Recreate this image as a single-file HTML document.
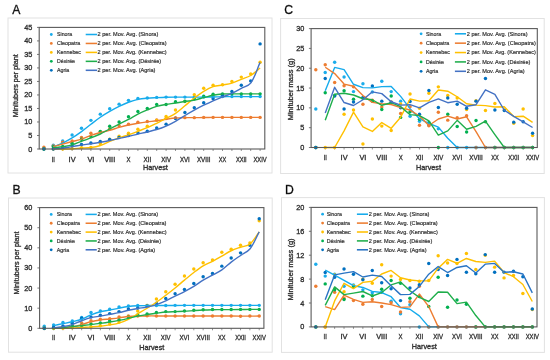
<!DOCTYPE html>
<html><head><meta charset="utf-8"><style>
html,body{margin:0;padding:0;background:#fff;width:550px;height:360px;overflow:hidden}
svg{display:block;font-family:"Liberation Sans", sans-serif;will-change:transform} text{stroke:#303030;stroke-width:0.32px} text.lg{stroke-width:0.2px;fill:#333}
</style></head><body>
<svg width="550" height="360" viewBox="0 0 550 360">
<rect width="550" height="360" fill="#fff"/>
<rect x="8" y="18" width="264" height="155" fill="#fff" stroke="#e2e2e2" stroke-width="1"/>
<text x="12.20" y="13.90" font-size="12.2" text-anchor="start" fill="#000" >A</text>
<line x1="37.00" y1="149.00" x2="39.20" y2="149.00" stroke="#7a7a7a" stroke-width="1"/>
<text x="32.40" y="151.50" font-size="7.3" text-anchor="end" fill="#303030" >0</text>
<line x1="37.00" y1="135.49" x2="39.20" y2="135.49" stroke="#7a7a7a" stroke-width="1"/>
<text x="32.40" y="137.99" font-size="7.3" text-anchor="end" fill="#303030" >5</text>
<line x1="37.00" y1="121.98" x2="39.20" y2="121.98" stroke="#7a7a7a" stroke-width="1"/>
<text x="32.40" y="124.48" font-size="7.3" text-anchor="end" fill="#303030" >10</text>
<line x1="37.00" y1="108.47" x2="39.20" y2="108.47" stroke="#7a7a7a" stroke-width="1"/>
<text x="32.40" y="110.97" font-size="7.3" text-anchor="end" fill="#303030" >15</text>
<line x1="37.00" y1="94.96" x2="39.20" y2="94.96" stroke="#7a7a7a" stroke-width="1"/>
<text x="32.40" y="97.46" font-size="7.3" text-anchor="end" fill="#303030" >20</text>
<line x1="37.00" y1="81.44" x2="39.20" y2="81.44" stroke="#7a7a7a" stroke-width="1"/>
<text x="32.40" y="83.94" font-size="7.3" text-anchor="end" fill="#303030" >25</text>
<line x1="37.00" y1="67.93" x2="39.20" y2="67.93" stroke="#7a7a7a" stroke-width="1"/>
<text x="32.40" y="70.43" font-size="7.3" text-anchor="end" fill="#303030" >30</text>
<line x1="37.00" y1="54.42" x2="39.20" y2="54.42" stroke="#7a7a7a" stroke-width="1"/>
<text x="32.40" y="56.92" font-size="7.3" text-anchor="end" fill="#303030" >35</text>
<line x1="37.00" y1="40.91" x2="39.20" y2="40.91" stroke="#7a7a7a" stroke-width="1"/>
<text x="32.40" y="43.41" font-size="7.3" text-anchor="end" fill="#303030" >40</text>
<line x1="37.00" y1="27.40" x2="39.20" y2="27.40" stroke="#7a7a7a" stroke-width="1"/>
<text x="32.40" y="29.90" font-size="7.3" text-anchor="end" fill="#303030" >45</text>
<line x1="43.90" y1="149.00" x2="43.90" y2="151.00" stroke="#7a7a7a" stroke-width="0.8"/>
<line x1="53.30" y1="149.00" x2="53.30" y2="151.00" stroke="#7a7a7a" stroke-width="0.8"/>
<line x1="62.70" y1="149.00" x2="62.70" y2="151.00" stroke="#7a7a7a" stroke-width="0.8"/>
<line x1="72.10" y1="149.00" x2="72.10" y2="151.00" stroke="#7a7a7a" stroke-width="0.8"/>
<line x1="81.50" y1="149.00" x2="81.50" y2="151.00" stroke="#7a7a7a" stroke-width="0.8"/>
<line x1="90.90" y1="149.00" x2="90.90" y2="151.00" stroke="#7a7a7a" stroke-width="0.8"/>
<line x1="100.30" y1="149.00" x2="100.30" y2="151.00" stroke="#7a7a7a" stroke-width="0.8"/>
<line x1="109.70" y1="149.00" x2="109.70" y2="151.00" stroke="#7a7a7a" stroke-width="0.8"/>
<line x1="119.10" y1="149.00" x2="119.10" y2="151.00" stroke="#7a7a7a" stroke-width="0.8"/>
<line x1="128.50" y1="149.00" x2="128.50" y2="151.00" stroke="#7a7a7a" stroke-width="0.8"/>
<line x1="137.90" y1="149.00" x2="137.90" y2="151.00" stroke="#7a7a7a" stroke-width="0.8"/>
<line x1="147.30" y1="149.00" x2="147.30" y2="151.00" stroke="#7a7a7a" stroke-width="0.8"/>
<line x1="156.70" y1="149.00" x2="156.70" y2="151.00" stroke="#7a7a7a" stroke-width="0.8"/>
<line x1="166.10" y1="149.00" x2="166.10" y2="151.00" stroke="#7a7a7a" stroke-width="0.8"/>
<line x1="175.50" y1="149.00" x2="175.50" y2="151.00" stroke="#7a7a7a" stroke-width="0.8"/>
<line x1="184.90" y1="149.00" x2="184.90" y2="151.00" stroke="#7a7a7a" stroke-width="0.8"/>
<line x1="194.30" y1="149.00" x2="194.30" y2="151.00" stroke="#7a7a7a" stroke-width="0.8"/>
<line x1="203.70" y1="149.00" x2="203.70" y2="151.00" stroke="#7a7a7a" stroke-width="0.8"/>
<line x1="213.10" y1="149.00" x2="213.10" y2="151.00" stroke="#7a7a7a" stroke-width="0.8"/>
<line x1="222.50" y1="149.00" x2="222.50" y2="151.00" stroke="#7a7a7a" stroke-width="0.8"/>
<line x1="231.90" y1="149.00" x2="231.90" y2="151.00" stroke="#7a7a7a" stroke-width="0.8"/>
<line x1="241.30" y1="149.00" x2="241.30" y2="151.00" stroke="#7a7a7a" stroke-width="0.8"/>
<line x1="250.70" y1="149.00" x2="250.70" y2="151.00" stroke="#7a7a7a" stroke-width="0.8"/>
<line x1="260.10" y1="149.00" x2="260.10" y2="151.00" stroke="#7a7a7a" stroke-width="0.8"/>
<text x="53.30" y="161.50" font-size="7" text-anchor="middle" fill="#303030" textLength="3.2" lengthAdjust="spacingAndGlyphs" >II</text>
<text x="72.10" y="161.50" font-size="7" text-anchor="middle" fill="#303030" textLength="7.0" lengthAdjust="spacingAndGlyphs" >IV</text>
<text x="90.90" y="161.50" font-size="7" text-anchor="middle" fill="#303030" textLength="7.0" lengthAdjust="spacingAndGlyphs" >VI</text>
<text x="109.70" y="161.50" font-size="7" text-anchor="middle" fill="#303030" textLength="11.0" lengthAdjust="spacingAndGlyphs" >VIII</text>
<text x="128.50" y="161.50" font-size="7" text-anchor="middle" fill="#303030" textLength="4.0" lengthAdjust="spacingAndGlyphs" >X</text>
<text x="147.30" y="161.50" font-size="7" text-anchor="middle" fill="#303030" textLength="7.7" lengthAdjust="spacingAndGlyphs" >XII</text>
<text x="166.10" y="161.50" font-size="7" text-anchor="middle" fill="#303030" textLength="9.8" lengthAdjust="spacingAndGlyphs" >XIV</text>
<text x="184.90" y="161.50" font-size="7" text-anchor="middle" fill="#303030" textLength="9.8" lengthAdjust="spacingAndGlyphs" >XVI</text>
<text x="203.70" y="161.50" font-size="7" text-anchor="middle" fill="#303030" textLength="13.5" lengthAdjust="spacingAndGlyphs" >XVIII</text>
<text x="222.50" y="161.50" font-size="7" text-anchor="middle" fill="#303030" textLength="7.5" lengthAdjust="spacingAndGlyphs" >XX</text>
<text x="241.30" y="161.50" font-size="7" text-anchor="middle" fill="#303030" textLength="10.8" lengthAdjust="spacingAndGlyphs" >XXII</text>
<text x="260.10" y="161.50" font-size="7" text-anchor="middle" fill="#303030" textLength="13.3" lengthAdjust="spacingAndGlyphs" >XXIV</text>
<text x="155.40" y="170.20" font-size="7.4" text-anchor="middle" fill="#303030" textLength="25" lengthAdjust="spacingAndGlyphs" >Harvest</text>
<text x="0" y="0" font-size="7.9" text-anchor="middle" fill="#303030" textLength="62.9" lengthAdjust="spacingAndGlyphs" transform="translate(18.4,85.75) rotate(-90)">Minitubers per plant</text>
<circle cx="43.90" cy="148.19" r="1.72" fill="#1AACEB"/>
<circle cx="53.30" cy="145.22" r="1.72" fill="#1AACEB"/>
<circle cx="62.70" cy="140.89" r="1.72" fill="#1AACEB"/>
<circle cx="72.10" cy="134.95" r="1.72" fill="#1AACEB"/>
<circle cx="81.50" cy="128.19" r="1.72" fill="#1AACEB"/>
<circle cx="90.90" cy="120.36" r="1.72" fill="#1AACEB"/>
<circle cx="100.30" cy="114.14" r="1.72" fill="#1AACEB"/>
<circle cx="109.70" cy="108.74" r="1.72" fill="#1AACEB"/>
<circle cx="119.10" cy="104.14" r="1.72" fill="#1AACEB"/>
<circle cx="128.50" cy="100.36" r="1.72" fill="#1AACEB"/>
<circle cx="137.90" cy="98.47" r="1.72" fill="#1AACEB"/>
<circle cx="147.30" cy="97.93" r="1.72" fill="#1AACEB"/>
<circle cx="156.70" cy="97.39" r="1.72" fill="#1AACEB"/>
<circle cx="166.10" cy="97.12" r="1.72" fill="#1AACEB"/>
<circle cx="175.50" cy="97.12" r="1.72" fill="#1AACEB"/>
<circle cx="184.90" cy="97.12" r="1.72" fill="#1AACEB"/>
<circle cx="194.30" cy="97.12" r="1.72" fill="#1AACEB"/>
<circle cx="203.70" cy="97.12" r="1.72" fill="#1AACEB"/>
<circle cx="213.10" cy="96.85" r="1.72" fill="#1AACEB"/>
<circle cx="222.50" cy="96.58" r="1.72" fill="#1AACEB"/>
<circle cx="231.90" cy="96.58" r="1.72" fill="#1AACEB"/>
<circle cx="241.30" cy="96.58" r="1.72" fill="#1AACEB"/>
<circle cx="250.70" cy="96.58" r="1.72" fill="#1AACEB"/>
<circle cx="260.10" cy="96.58" r="1.72" fill="#1AACEB"/>
<circle cx="43.90" cy="147.22" r="1.72" fill="#ED7D31"/>
<circle cx="53.30" cy="146.03" r="1.72" fill="#ED7D31"/>
<circle cx="62.70" cy="142.24" r="1.72" fill="#ED7D31"/>
<circle cx="72.10" cy="140.89" r="1.72" fill="#ED7D31"/>
<circle cx="81.50" cy="137.38" r="1.72" fill="#ED7D31"/>
<circle cx="90.90" cy="133.33" r="1.72" fill="#ED7D31"/>
<circle cx="100.30" cy="131.71" r="1.72" fill="#ED7D31"/>
<circle cx="109.70" cy="129.00" r="1.72" fill="#ED7D31"/>
<circle cx="119.10" cy="125.76" r="1.72" fill="#ED7D31"/>
<circle cx="128.50" cy="124.14" r="1.72" fill="#ED7D31"/>
<circle cx="137.90" cy="122.25" r="1.72" fill="#ED7D31"/>
<circle cx="147.30" cy="121.44" r="1.72" fill="#ED7D31"/>
<circle cx="156.70" cy="120.09" r="1.72" fill="#ED7D31"/>
<circle cx="166.10" cy="118.46" r="1.72" fill="#ED7D31"/>
<circle cx="175.50" cy="117.65" r="1.72" fill="#ED7D31"/>
<circle cx="184.90" cy="117.65" r="1.72" fill="#ED7D31"/>
<circle cx="194.30" cy="117.65" r="1.72" fill="#ED7D31"/>
<circle cx="203.70" cy="117.38" r="1.72" fill="#ED7D31"/>
<circle cx="213.10" cy="117.38" r="1.72" fill="#ED7D31"/>
<circle cx="222.50" cy="117.38" r="1.72" fill="#ED7D31"/>
<circle cx="231.90" cy="117.38" r="1.72" fill="#ED7D31"/>
<circle cx="241.30" cy="117.38" r="1.72" fill="#ED7D31"/>
<circle cx="250.70" cy="117.38" r="1.72" fill="#ED7D31"/>
<circle cx="260.10" cy="117.38" r="1.72" fill="#ED7D31"/>
<circle cx="43.90" cy="149.00" r="1.72" fill="#FFC000"/>
<circle cx="53.30" cy="149.00" r="1.72" fill="#FFC000"/>
<circle cx="62.70" cy="149.00" r="1.72" fill="#FFC000"/>
<circle cx="72.10" cy="148.46" r="1.72" fill="#FFC000"/>
<circle cx="81.50" cy="147.65" r="1.72" fill="#FFC000"/>
<circle cx="90.90" cy="147.38" r="1.72" fill="#FFC000"/>
<circle cx="100.30" cy="143.60" r="1.72" fill="#FFC000"/>
<circle cx="109.70" cy="139.27" r="1.72" fill="#FFC000"/>
<circle cx="119.10" cy="136.30" r="1.72" fill="#FFC000"/>
<circle cx="128.50" cy="133.33" r="1.72" fill="#FFC000"/>
<circle cx="137.90" cy="129.27" r="1.72" fill="#FFC000"/>
<circle cx="147.30" cy="126.17" r="1.72" fill="#FFC000"/>
<circle cx="156.70" cy="120.36" r="1.72" fill="#FFC000"/>
<circle cx="166.10" cy="116.57" r="1.72" fill="#FFC000"/>
<circle cx="175.50" cy="110.09" r="1.72" fill="#FFC000"/>
<circle cx="184.90" cy="101.44" r="1.72" fill="#FFC000"/>
<circle cx="194.30" cy="94.69" r="1.72" fill="#FFC000"/>
<circle cx="203.70" cy="88.20" r="1.72" fill="#FFC000"/>
<circle cx="213.10" cy="85.23" r="1.72" fill="#FFC000"/>
<circle cx="222.50" cy="84.69" r="1.72" fill="#FFC000"/>
<circle cx="231.90" cy="81.44" r="1.72" fill="#FFC000"/>
<circle cx="241.30" cy="77.12" r="1.72" fill="#FFC000"/>
<circle cx="250.70" cy="73.88" r="1.72" fill="#FFC000"/>
<circle cx="260.10" cy="62.26" r="1.72" fill="#FFC000"/>
<circle cx="43.90" cy="149.00" r="1.72" fill="#00B050"/>
<circle cx="53.30" cy="146.84" r="1.72" fill="#00B050"/>
<circle cx="62.70" cy="146.57" r="1.72" fill="#00B050"/>
<circle cx="72.10" cy="143.33" r="1.72" fill="#00B050"/>
<circle cx="81.50" cy="139.27" r="1.72" fill="#00B050"/>
<circle cx="90.90" cy="136.57" r="1.72" fill="#00B050"/>
<circle cx="100.30" cy="131.44" r="1.72" fill="#00B050"/>
<circle cx="109.70" cy="126.30" r="1.72" fill="#00B050"/>
<circle cx="119.10" cy="121.98" r="1.72" fill="#00B050"/>
<circle cx="128.50" cy="116.84" r="1.72" fill="#00B050"/>
<circle cx="137.90" cy="111.44" r="1.72" fill="#00B050"/>
<circle cx="147.30" cy="108.47" r="1.72" fill="#00B050"/>
<circle cx="156.70" cy="104.41" r="1.72" fill="#00B050"/>
<circle cx="166.10" cy="104.41" r="1.72" fill="#00B050"/>
<circle cx="175.50" cy="101.71" r="1.72" fill="#00B050"/>
<circle cx="184.90" cy="101.17" r="1.72" fill="#00B050"/>
<circle cx="194.30" cy="99.01" r="1.72" fill="#00B050"/>
<circle cx="203.70" cy="96.31" r="1.72" fill="#00B050"/>
<circle cx="213.10" cy="94.14" r="1.72" fill="#00B050"/>
<circle cx="222.50" cy="93.87" r="1.72" fill="#00B050"/>
<circle cx="231.90" cy="93.87" r="1.72" fill="#00B050"/>
<circle cx="241.30" cy="93.87" r="1.72" fill="#00B050"/>
<circle cx="250.70" cy="93.87" r="1.72" fill="#00B050"/>
<circle cx="260.10" cy="93.87" r="1.72" fill="#00B050"/>
<circle cx="43.90" cy="149.00" r="1.72" fill="#0070C0"/>
<circle cx="53.30" cy="149.00" r="1.72" fill="#0070C0"/>
<circle cx="62.70" cy="147.38" r="1.72" fill="#0070C0"/>
<circle cx="72.10" cy="145.76" r="1.72" fill="#0070C0"/>
<circle cx="81.50" cy="144.41" r="1.72" fill="#0070C0"/>
<circle cx="90.90" cy="143.06" r="1.72" fill="#0070C0"/>
<circle cx="100.30" cy="141.43" r="1.72" fill="#0070C0"/>
<circle cx="109.70" cy="139.54" r="1.72" fill="#0070C0"/>
<circle cx="119.10" cy="137.38" r="1.72" fill="#0070C0"/>
<circle cx="128.50" cy="135.49" r="1.72" fill="#0070C0"/>
<circle cx="137.90" cy="132.79" r="1.72" fill="#0070C0"/>
<circle cx="147.30" cy="131.17" r="1.72" fill="#0070C0"/>
<circle cx="156.70" cy="127.92" r="1.72" fill="#0070C0"/>
<circle cx="166.10" cy="124.14" r="1.72" fill="#0070C0"/>
<circle cx="175.50" cy="118.46" r="1.72" fill="#0070C0"/>
<circle cx="184.90" cy="112.52" r="1.72" fill="#0070C0"/>
<circle cx="194.30" cy="107.66" r="1.72" fill="#0070C0"/>
<circle cx="203.70" cy="102.79" r="1.72" fill="#0070C0"/>
<circle cx="213.10" cy="98.74" r="1.72" fill="#0070C0"/>
<circle cx="222.50" cy="95.23" r="1.72" fill="#0070C0"/>
<circle cx="231.90" cy="91.44" r="1.72" fill="#0070C0"/>
<circle cx="241.30" cy="85.23" r="1.72" fill="#0070C0"/>
<circle cx="250.70" cy="80.90" r="1.72" fill="#0070C0"/>
<circle cx="260.10" cy="43.88" r="1.72" fill="#0070C0"/>
<path d="M53.30,146.70 C56.43,145.49 59.65,144.48 62.70,143.06 C65.93,141.54 69.05,139.78 72.10,137.92 C75.33,135.95 78.44,133.79 81.50,131.57 C84.71,129.24 87.74,126.68 90.90,124.27 C94.01,121.90 97.07,119.45 100.30,117.25 C103.34,115.17 106.51,113.28 109.70,111.44 C112.78,109.67 115.91,108.00 119.10,106.44 C122.18,104.93 125.29,103.45 128.50,102.25 C131.57,101.11 134.70,100.10 137.90,99.41 C140.99,98.75 144.15,98.49 147.30,98.20 C150.42,97.91 153.57,97.82 156.70,97.66 C159.83,97.50 162.97,97.34 166.10,97.25 C169.23,97.16 172.37,97.14 175.50,97.12 C178.63,97.09 181.77,97.12 184.90,97.12 C188.03,97.12 191.17,97.12 194.30,97.12 C197.43,97.12 200.57,97.14 203.70,97.12 C206.83,97.09 209.97,97.05 213.10,96.98 C216.23,96.91 219.37,96.78 222.50,96.71 C225.63,96.64 228.77,96.60 231.90,96.58 C235.03,96.55 238.17,96.58 241.30,96.58 C244.43,96.58 247.57,96.58 250.70,96.58 C253.83,96.58 256.97,96.58 260.10,96.58" fill="none" stroke="#16ABEC" stroke-width="1.4" stroke-linejoin="round"/>
<path d="M53.30,146.62 C56.43,145.79 59.57,144.98 62.70,144.14 C65.84,143.29 68.96,142.40 72.10,141.57 C75.23,140.74 78.43,140.15 81.50,139.14 C84.71,138.08 87.71,136.48 90.90,135.35 C93.99,134.27 97.14,133.36 100.30,132.52 C103.41,131.69 106.60,131.20 109.70,130.35 C112.87,129.49 115.94,128.29 119.10,127.38 C122.21,126.49 125.34,125.65 128.50,124.95 C131.61,124.26 134.76,123.71 137.90,123.19 C141.02,122.68 144.16,122.25 147.30,121.84 C150.43,121.44 153.58,121.19 156.70,120.76 C159.84,120.33 162.96,119.73 166.10,119.28 C169.23,118.83 172.35,118.33 175.50,118.06 C178.62,117.79 181.76,117.72 184.90,117.65 C188.03,117.59 191.17,117.68 194.30,117.65 C197.43,117.63 200.57,117.56 203.70,117.52 C206.83,117.47 209.97,117.41 213.10,117.38 C216.23,117.36 219.37,117.38 222.50,117.38 C225.63,117.38 228.77,117.38 231.90,117.38 C235.03,117.38 238.17,117.38 241.30,117.38 C244.43,117.38 247.57,117.38 250.70,117.38 C253.83,117.38 256.97,117.38 260.10,117.38" fill="none" stroke="#ED7D31" stroke-width="1.4" stroke-linejoin="round"/>
<path d="M53.30,149.00 C56.43,149.00 59.57,149.05 62.70,149.00 C65.83,148.95 68.97,148.89 72.10,148.73 C75.24,148.57 78.37,148.26 81.50,148.05 C84.63,147.85 87.79,147.94 90.90,147.51 C94.08,147.08 97.25,146.47 100.30,145.49 C103.55,144.44 106.54,142.73 109.70,141.43 C112.81,140.16 115.93,138.90 119.10,137.79 C122.20,136.69 125.39,135.89 128.50,134.81 C131.66,133.72 134.77,132.48 137.90,131.30 C141.04,130.12 144.22,129.04 147.30,127.72 C150.49,126.36 153.59,124.79 156.70,123.26 C159.86,121.71 162.99,120.11 166.10,118.46 C169.26,116.80 172.54,115.33 175.50,113.33 C178.83,111.08 181.78,108.30 184.90,105.76 C188.04,103.21 191.08,100.52 194.30,98.06 C197.35,95.74 200.42,93.42 203.70,91.44 C206.70,89.63 209.78,87.86 213.10,86.71 C216.11,85.67 219.37,85.56 222.50,84.96 C225.64,84.35 228.84,83.99 231.90,83.07 C235.13,82.09 238.17,80.54 241.30,79.28 C244.43,78.02 247.80,77.23 250.70,75.50 C254.13,73.45 256.97,70.55 260.10,68.07" fill="none" stroke="#FFC000" stroke-width="1.4" stroke-linejoin="round"/>
<path d="M53.30,147.92 C56.43,147.51 59.58,147.20 62.70,146.70 C65.85,146.21 69.04,145.83 72.10,144.95 C75.33,144.02 78.35,142.48 81.50,141.30 C84.62,140.13 87.80,139.13 90.90,137.92 C94.06,136.69 97.24,135.48 100.30,134.00 C103.52,132.45 106.54,130.53 109.70,128.87 C112.81,127.24 115.97,125.72 119.10,124.14 C122.23,122.56 125.40,121.06 128.50,119.41 C131.67,117.72 134.69,115.76 137.90,114.14 C140.96,112.60 144.13,111.25 147.30,109.95 C150.40,108.68 153.49,107.39 156.70,106.44 C159.77,105.53 162.95,104.98 166.10,104.41 C169.22,103.85 172.37,103.56 175.50,103.06 C178.64,102.57 181.76,101.94 184.90,101.44 C188.03,100.95 191.20,100.71 194.30,100.09 C197.47,99.45 200.57,98.47 203.70,97.66 C206.83,96.85 209.92,95.84 213.10,95.23 C216.20,94.62 219.35,94.24 222.50,94.01 C225.63,93.79 228.77,93.90 231.90,93.87 C235.03,93.85 238.17,93.87 241.30,93.87 C244.43,93.87 247.57,93.87 250.70,93.87 C253.83,93.87 256.97,93.87 260.10,93.87" fill="none" stroke="#1FAE4B" stroke-width="1.4" stroke-linejoin="round"/>
<path d="M53.30,149.00 C56.43,148.73 59.58,148.59 62.70,148.19 C65.85,147.78 68.96,147.09 72.10,146.57 C75.23,146.05 78.36,145.56 81.50,145.08 C84.63,144.61 87.77,144.20 90.90,143.73 C94.04,143.26 97.17,142.78 100.30,142.24 C103.44,141.70 106.58,141.12 109.70,140.49 C112.84,139.86 115.97,139.14 119.10,138.46 C122.23,137.79 125.38,137.15 128.50,136.43 C131.64,135.71 134.76,134.88 137.90,134.14 C141.03,133.40 144.18,132.74 147.30,131.98 C150.44,131.21 153.61,130.52 156.70,129.54 C159.89,128.54 163.04,127.37 166.10,126.03 C169.31,124.62 172.44,123.02 175.50,121.30 C178.71,119.50 181.74,117.38 184.90,115.49 C188.00,113.64 191.13,111.82 194.30,110.09 C197.40,108.40 200.54,106.79 203.70,105.22 C206.81,103.68 209.92,102.16 213.10,100.77 C216.19,99.41 219.36,98.22 222.50,96.98 C225.63,95.75 228.85,94.74 231.90,93.33 C235.12,91.85 238.19,90.04 241.30,88.34 C244.45,86.61 248.59,85.97 250.70,83.07 C255.14,76.94 256.97,69.28 260.10,62.39" fill="none" stroke="#4472C4" stroke-width="1.4" stroke-linejoin="round"/>
<rect x="39.2" y="27.4" width="225.60000000000002" height="121.6" fill="none" stroke="#5a5a5a" stroke-width="1.1"/>
<circle cx="51.3" cy="34.50" r="1.4" fill="#1AACEB"/>
<text x="57.00" y="36.40" font-size="6.1" text-anchor="start" fill="#303030" textLength="15.2" lengthAdjust="spacingAndGlyphs" class="lg">Sinora</text>
<line x1="85.7" y1="34.50" x2="97.2" y2="34.50" stroke="#16ABEC" stroke-width="1.55"/>
<text x="97.60" y="36.40" font-size="6.1" text-anchor="start" fill="#303030" textLength="60.7" lengthAdjust="spacingAndGlyphs" class="lg">2 per. Mov. Avg. (Sinora)</text>
<circle cx="51.3" cy="43.45" r="1.4" fill="#ED7D31"/>
<text x="57.00" y="45.35" font-size="6.1" text-anchor="start" fill="#303030" textLength="23.3" lengthAdjust="spacingAndGlyphs" class="lg">Cleopatra</text>
<line x1="85.7" y1="43.45" x2="97.2" y2="43.45" stroke="#ED7D31" stroke-width="1.55"/>
<text x="97.60" y="45.35" font-size="6.1" text-anchor="start" fill="#303030" textLength="69" lengthAdjust="spacingAndGlyphs" class="lg">2 per. Mov. Avg. (Cleopatra)</text>
<circle cx="51.3" cy="52.40" r="1.4" fill="#FFC000"/>
<text x="57.00" y="54.30" font-size="6.1" text-anchor="start" fill="#303030" textLength="24" lengthAdjust="spacingAndGlyphs" class="lg">Kennebec</text>
<line x1="85.7" y1="52.40" x2="97.2" y2="52.40" stroke="#FFC000" stroke-width="1.55"/>
<text x="97.60" y="54.30" font-size="6.1" text-anchor="start" fill="#303030" textLength="69.1" lengthAdjust="spacingAndGlyphs" class="lg">2 per. Mov. Avg. (Kennebec)</text>
<circle cx="51.3" cy="61.35" r="1.4" fill="#00B050"/>
<text x="57.00" y="63.25" font-size="6.1" text-anchor="start" fill="#303030" textLength="18" lengthAdjust="spacingAndGlyphs" class="lg">Désirée</text>
<line x1="85.7" y1="61.35" x2="97.2" y2="61.35" stroke="#1FAE4B" stroke-width="1.55"/>
<text x="97.60" y="63.25" font-size="6.1" text-anchor="start" fill="#303030" textLength="63.6" lengthAdjust="spacingAndGlyphs" class="lg">2 per. Mov. Avg. (Désirée)</text>
<circle cx="51.3" cy="70.30" r="1.4" fill="#0070C0"/>
<text x="57.00" y="72.20" font-size="6.1" text-anchor="start" fill="#303030" textLength="12.3" lengthAdjust="spacingAndGlyphs" class="lg">Agria</text>
<line x1="85.7" y1="70.30" x2="97.2" y2="70.30" stroke="#4472C4" stroke-width="1.55"/>
<text x="97.60" y="72.20" font-size="6.1" text-anchor="start" fill="#303030" textLength="57.8" lengthAdjust="spacingAndGlyphs" class="lg">2 per. Mov. Avg. (Agria)</text>
<rect x="8.5" y="198" width="263.7" height="154.2" fill="#fff" stroke="#e2e2e2" stroke-width="1"/>
<text x="12.50" y="194.00" font-size="12.2" text-anchor="start" fill="#000" >B</text>
<line x1="37.40" y1="328.30" x2="39.60" y2="328.30" stroke="#7a7a7a" stroke-width="1"/>
<text x="32.40" y="330.80" font-size="7.3" text-anchor="end" fill="#303030" >0</text>
<line x1="37.40" y1="308.18" x2="39.60" y2="308.18" stroke="#7a7a7a" stroke-width="1"/>
<text x="32.40" y="310.68" font-size="7.3" text-anchor="end" fill="#303030" >10</text>
<line x1="37.40" y1="288.07" x2="39.60" y2="288.07" stroke="#7a7a7a" stroke-width="1"/>
<text x="32.40" y="290.57" font-size="7.3" text-anchor="end" fill="#303030" >20</text>
<line x1="37.40" y1="267.95" x2="39.60" y2="267.95" stroke="#7a7a7a" stroke-width="1"/>
<text x="32.40" y="270.45" font-size="7.3" text-anchor="end" fill="#303030" >30</text>
<line x1="37.40" y1="247.83" x2="39.60" y2="247.83" stroke="#7a7a7a" stroke-width="1"/>
<text x="32.40" y="250.33" font-size="7.3" text-anchor="end" fill="#303030" >40</text>
<line x1="37.40" y1="227.72" x2="39.60" y2="227.72" stroke="#7a7a7a" stroke-width="1"/>
<text x="32.40" y="230.22" font-size="7.3" text-anchor="end" fill="#303030" >50</text>
<line x1="37.40" y1="207.60" x2="39.60" y2="207.60" stroke="#7a7a7a" stroke-width="1"/>
<text x="32.40" y="210.10" font-size="7.3" text-anchor="end" fill="#303030" >60</text>
<line x1="44.27" y1="328.30" x2="44.27" y2="330.30" stroke="#7a7a7a" stroke-width="0.8"/>
<line x1="53.62" y1="328.30" x2="53.62" y2="330.30" stroke="#7a7a7a" stroke-width="0.8"/>
<line x1="62.96" y1="328.30" x2="62.96" y2="330.30" stroke="#7a7a7a" stroke-width="0.8"/>
<line x1="72.31" y1="328.30" x2="72.31" y2="330.30" stroke="#7a7a7a" stroke-width="0.8"/>
<line x1="81.66" y1="328.30" x2="81.66" y2="330.30" stroke="#7a7a7a" stroke-width="0.8"/>
<line x1="91.00" y1="328.30" x2="91.00" y2="330.30" stroke="#7a7a7a" stroke-width="0.8"/>
<line x1="100.35" y1="328.30" x2="100.35" y2="330.30" stroke="#7a7a7a" stroke-width="0.8"/>
<line x1="109.69" y1="328.30" x2="109.69" y2="330.30" stroke="#7a7a7a" stroke-width="0.8"/>
<line x1="119.04" y1="328.30" x2="119.04" y2="330.30" stroke="#7a7a7a" stroke-width="0.8"/>
<line x1="128.39" y1="328.30" x2="128.39" y2="330.30" stroke="#7a7a7a" stroke-width="0.8"/>
<line x1="137.73" y1="328.30" x2="137.73" y2="330.30" stroke="#7a7a7a" stroke-width="0.8"/>
<line x1="147.08" y1="328.30" x2="147.08" y2="330.30" stroke="#7a7a7a" stroke-width="0.8"/>
<line x1="156.42" y1="328.30" x2="156.42" y2="330.30" stroke="#7a7a7a" stroke-width="0.8"/>
<line x1="165.77" y1="328.30" x2="165.77" y2="330.30" stroke="#7a7a7a" stroke-width="0.8"/>
<line x1="175.11" y1="328.30" x2="175.11" y2="330.30" stroke="#7a7a7a" stroke-width="0.8"/>
<line x1="184.46" y1="328.30" x2="184.46" y2="330.30" stroke="#7a7a7a" stroke-width="0.8"/>
<line x1="193.81" y1="328.30" x2="193.81" y2="330.30" stroke="#7a7a7a" stroke-width="0.8"/>
<line x1="203.15" y1="328.30" x2="203.15" y2="330.30" stroke="#7a7a7a" stroke-width="0.8"/>
<line x1="212.50" y1="328.30" x2="212.50" y2="330.30" stroke="#7a7a7a" stroke-width="0.8"/>
<line x1="221.84" y1="328.30" x2="221.84" y2="330.30" stroke="#7a7a7a" stroke-width="0.8"/>
<line x1="231.19" y1="328.30" x2="231.19" y2="330.30" stroke="#7a7a7a" stroke-width="0.8"/>
<line x1="240.54" y1="328.30" x2="240.54" y2="330.30" stroke="#7a7a7a" stroke-width="0.8"/>
<line x1="249.88" y1="328.30" x2="249.88" y2="330.30" stroke="#7a7a7a" stroke-width="0.8"/>
<line x1="259.23" y1="328.30" x2="259.23" y2="330.30" stroke="#7a7a7a" stroke-width="0.8"/>
<text x="53.62" y="340.30" font-size="7" text-anchor="middle" fill="#303030" textLength="3.2" lengthAdjust="spacingAndGlyphs" >II</text>
<text x="72.31" y="340.30" font-size="7" text-anchor="middle" fill="#303030" textLength="7.0" lengthAdjust="spacingAndGlyphs" >IV</text>
<text x="91.00" y="340.30" font-size="7" text-anchor="middle" fill="#303030" textLength="7.0" lengthAdjust="spacingAndGlyphs" >VI</text>
<text x="109.69" y="340.30" font-size="7" text-anchor="middle" fill="#303030" textLength="11.0" lengthAdjust="spacingAndGlyphs" >VIII</text>
<text x="128.39" y="340.30" font-size="7" text-anchor="middle" fill="#303030" textLength="4.0" lengthAdjust="spacingAndGlyphs" >X</text>
<text x="147.08" y="340.30" font-size="7" text-anchor="middle" fill="#303030" textLength="7.7" lengthAdjust="spacingAndGlyphs" >XII</text>
<text x="165.77" y="340.30" font-size="7" text-anchor="middle" fill="#303030" textLength="9.8" lengthAdjust="spacingAndGlyphs" >XIV</text>
<text x="184.46" y="340.30" font-size="7" text-anchor="middle" fill="#303030" textLength="9.8" lengthAdjust="spacingAndGlyphs" >XVI</text>
<text x="203.15" y="340.30" font-size="7" text-anchor="middle" fill="#303030" textLength="13.5" lengthAdjust="spacingAndGlyphs" >XVIII</text>
<text x="221.84" y="340.30" font-size="7" text-anchor="middle" fill="#303030" textLength="7.5" lengthAdjust="spacingAndGlyphs" >XX</text>
<text x="240.54" y="340.30" font-size="7" text-anchor="middle" fill="#303030" textLength="10.8" lengthAdjust="spacingAndGlyphs" >XXII</text>
<text x="259.23" y="340.30" font-size="7" text-anchor="middle" fill="#303030" textLength="13.3" lengthAdjust="spacingAndGlyphs" >XXIV</text>
<text x="151.80" y="349.50" font-size="7.4" text-anchor="middle" fill="#303030" textLength="25" lengthAdjust="spacingAndGlyphs" >Harvest</text>
<text x="0" y="0" font-size="7.9" text-anchor="middle" fill="#303030" textLength="62.9" lengthAdjust="spacingAndGlyphs" transform="translate(18.6,263.0) rotate(-90)">Minitubers per plant</text>
<circle cx="44.27" cy="326.29" r="1.72" fill="#1AACEB"/>
<circle cx="53.62" cy="324.88" r="1.72" fill="#1AACEB"/>
<circle cx="62.96" cy="322.47" r="1.72" fill="#1AACEB"/>
<circle cx="72.31" cy="321.06" r="1.72" fill="#1AACEB"/>
<circle cx="81.66" cy="317.44" r="1.72" fill="#1AACEB"/>
<circle cx="91.00" cy="312.41" r="1.72" fill="#1AACEB"/>
<circle cx="100.35" cy="311.00" r="1.72" fill="#1AACEB"/>
<circle cx="109.69" cy="309.19" r="1.72" fill="#1AACEB"/>
<circle cx="119.04" cy="306.98" r="1.72" fill="#1AACEB"/>
<circle cx="128.39" cy="305.97" r="1.72" fill="#1AACEB"/>
<circle cx="137.73" cy="305.57" r="1.72" fill="#1AACEB"/>
<circle cx="147.08" cy="305.57" r="1.72" fill="#1AACEB"/>
<circle cx="156.42" cy="305.57" r="1.72" fill="#1AACEB"/>
<circle cx="165.77" cy="305.57" r="1.72" fill="#1AACEB"/>
<circle cx="175.11" cy="305.37" r="1.72" fill="#1AACEB"/>
<circle cx="184.46" cy="305.37" r="1.72" fill="#1AACEB"/>
<circle cx="193.81" cy="305.37" r="1.72" fill="#1AACEB"/>
<circle cx="203.15" cy="305.37" r="1.72" fill="#1AACEB"/>
<circle cx="212.50" cy="305.37" r="1.72" fill="#1AACEB"/>
<circle cx="221.84" cy="305.37" r="1.72" fill="#1AACEB"/>
<circle cx="231.19" cy="305.37" r="1.72" fill="#1AACEB"/>
<circle cx="240.54" cy="305.37" r="1.72" fill="#1AACEB"/>
<circle cx="249.88" cy="305.37" r="1.72" fill="#1AACEB"/>
<circle cx="259.23" cy="305.37" r="1.72" fill="#1AACEB"/>
<circle cx="44.27" cy="328.30" r="1.72" fill="#ED7D31"/>
<circle cx="53.62" cy="327.90" r="1.72" fill="#ED7D31"/>
<circle cx="62.96" cy="327.29" r="1.72" fill="#ED7D31"/>
<circle cx="72.31" cy="326.29" r="1.72" fill="#ED7D31"/>
<circle cx="81.66" cy="322.87" r="1.72" fill="#ED7D31"/>
<circle cx="91.00" cy="320.66" r="1.72" fill="#ED7D31"/>
<circle cx="100.35" cy="319.25" r="1.72" fill="#ED7D31"/>
<circle cx="109.69" cy="318.64" r="1.72" fill="#ED7D31"/>
<circle cx="119.04" cy="317.03" r="1.72" fill="#ED7D31"/>
<circle cx="128.39" cy="316.03" r="1.72" fill="#ED7D31"/>
<circle cx="137.73" cy="316.03" r="1.72" fill="#ED7D31"/>
<circle cx="147.08" cy="315.83" r="1.72" fill="#ED7D31"/>
<circle cx="156.42" cy="316.03" r="1.72" fill="#ED7D31"/>
<circle cx="165.77" cy="316.03" r="1.72" fill="#ED7D31"/>
<circle cx="175.11" cy="316.03" r="1.72" fill="#ED7D31"/>
<circle cx="184.46" cy="316.03" r="1.72" fill="#ED7D31"/>
<circle cx="193.81" cy="316.03" r="1.72" fill="#ED7D31"/>
<circle cx="203.15" cy="316.03" r="1.72" fill="#ED7D31"/>
<circle cx="212.50" cy="316.03" r="1.72" fill="#ED7D31"/>
<circle cx="221.84" cy="316.03" r="1.72" fill="#ED7D31"/>
<circle cx="231.19" cy="316.03" r="1.72" fill="#ED7D31"/>
<circle cx="240.54" cy="316.23" r="1.72" fill="#ED7D31"/>
<circle cx="249.88" cy="316.03" r="1.72" fill="#ED7D31"/>
<circle cx="259.23" cy="316.03" r="1.72" fill="#ED7D31"/>
<circle cx="44.27" cy="328.30" r="1.72" fill="#FFC000"/>
<circle cx="53.62" cy="328.30" r="1.72" fill="#FFC000"/>
<circle cx="62.96" cy="328.30" r="1.72" fill="#FFC000"/>
<circle cx="72.31" cy="327.70" r="1.72" fill="#FFC000"/>
<circle cx="81.66" cy="327.09" r="1.72" fill="#FFC000"/>
<circle cx="91.00" cy="326.69" r="1.72" fill="#FFC000"/>
<circle cx="100.35" cy="325.68" r="1.72" fill="#FFC000"/>
<circle cx="109.69" cy="324.08" r="1.72" fill="#FFC000"/>
<circle cx="119.04" cy="322.06" r="1.72" fill="#FFC000"/>
<circle cx="128.39" cy="316.63" r="1.72" fill="#FFC000"/>
<circle cx="137.73" cy="311.00" r="1.72" fill="#FFC000"/>
<circle cx="147.08" cy="305.57" r="1.72" fill="#FFC000"/>
<circle cx="156.42" cy="298.93" r="1.72" fill="#FFC000"/>
<circle cx="165.77" cy="291.69" r="1.72" fill="#FFC000"/>
<circle cx="175.11" cy="284.24" r="1.72" fill="#FFC000"/>
<circle cx="184.46" cy="276.00" r="1.72" fill="#FFC000"/>
<circle cx="193.81" cy="268.96" r="1.72" fill="#FFC000"/>
<circle cx="203.15" cy="262.72" r="1.72" fill="#FFC000"/>
<circle cx="212.50" cy="259.90" r="1.72" fill="#FFC000"/>
<circle cx="221.84" cy="252.26" r="1.72" fill="#FFC000"/>
<circle cx="231.19" cy="249.24" r="1.72" fill="#FFC000"/>
<circle cx="240.54" cy="245.22" r="1.72" fill="#FFC000"/>
<circle cx="249.88" cy="243.01" r="1.72" fill="#FFC000"/>
<circle cx="259.23" cy="220.68" r="1.72" fill="#FFC000"/>
<circle cx="44.27" cy="328.30" r="1.72" fill="#00B050"/>
<circle cx="53.62" cy="327.90" r="1.72" fill="#00B050"/>
<circle cx="62.96" cy="327.29" r="1.72" fill="#00B050"/>
<circle cx="72.31" cy="325.89" r="1.72" fill="#00B050"/>
<circle cx="81.66" cy="325.28" r="1.72" fill="#00B050"/>
<circle cx="91.00" cy="323.87" r="1.72" fill="#00B050"/>
<circle cx="100.35" cy="322.87" r="1.72" fill="#00B050"/>
<circle cx="109.69" cy="321.06" r="1.72" fill="#00B050"/>
<circle cx="119.04" cy="319.65" r="1.72" fill="#00B050"/>
<circle cx="128.39" cy="317.03" r="1.72" fill="#00B050"/>
<circle cx="137.73" cy="315.02" r="1.72" fill="#00B050"/>
<circle cx="147.08" cy="314.02" r="1.72" fill="#00B050"/>
<circle cx="156.42" cy="312.41" r="1.72" fill="#00B050"/>
<circle cx="165.77" cy="311.60" r="1.72" fill="#00B050"/>
<circle cx="175.11" cy="311.60" r="1.72" fill="#00B050"/>
<circle cx="184.46" cy="311.00" r="1.72" fill="#00B050"/>
<circle cx="193.81" cy="310.19" r="1.72" fill="#00B050"/>
<circle cx="203.15" cy="309.79" r="1.72" fill="#00B050"/>
<circle cx="212.50" cy="309.59" r="1.72" fill="#00B050"/>
<circle cx="221.84" cy="309.59" r="1.72" fill="#00B050"/>
<circle cx="231.19" cy="309.59" r="1.72" fill="#00B050"/>
<circle cx="240.54" cy="309.39" r="1.72" fill="#00B050"/>
<circle cx="249.88" cy="309.39" r="1.72" fill="#00B050"/>
<circle cx="259.23" cy="309.39" r="1.72" fill="#00B050"/>
<circle cx="44.27" cy="328.30" r="1.72" fill="#0070C0"/>
<circle cx="53.62" cy="327.29" r="1.72" fill="#0070C0"/>
<circle cx="62.96" cy="325.89" r="1.72" fill="#0070C0"/>
<circle cx="72.31" cy="323.27" r="1.72" fill="#0070C0"/>
<circle cx="81.66" cy="318.24" r="1.72" fill="#0070C0"/>
<circle cx="91.00" cy="317.03" r="1.72" fill="#0070C0"/>
<circle cx="100.35" cy="315.22" r="1.72" fill="#0070C0"/>
<circle cx="109.69" cy="313.61" r="1.72" fill="#0070C0"/>
<circle cx="119.04" cy="311.60" r="1.72" fill="#0070C0"/>
<circle cx="128.39" cy="308.99" r="1.72" fill="#0070C0"/>
<circle cx="137.73" cy="307.98" r="1.72" fill="#0070C0"/>
<circle cx="147.08" cy="305.97" r="1.72" fill="#0070C0"/>
<circle cx="156.42" cy="303.15" r="1.72" fill="#0070C0"/>
<circle cx="165.77" cy="298.53" r="1.72" fill="#0070C0"/>
<circle cx="175.11" cy="293.70" r="1.72" fill="#0070C0"/>
<circle cx="184.46" cy="289.47" r="1.72" fill="#0070C0"/>
<circle cx="193.81" cy="283.44" r="1.72" fill="#0070C0"/>
<circle cx="203.15" cy="276.80" r="1.72" fill="#0070C0"/>
<circle cx="212.50" cy="273.58" r="1.72" fill="#0070C0"/>
<circle cx="221.84" cy="266.14" r="1.72" fill="#0070C0"/>
<circle cx="231.19" cy="258.09" r="1.72" fill="#0070C0"/>
<circle cx="240.54" cy="252.86" r="1.72" fill="#0070C0"/>
<circle cx="249.88" cy="245.22" r="1.72" fill="#0070C0"/>
<circle cx="259.23" cy="218.66" r="1.72" fill="#0070C0"/>
<path d="M53.62,325.58 C56.73,324.95 59.85,324.31 62.96,323.67 C66.08,323.04 69.22,322.49 72.31,321.76 C75.45,321.02 78.63,320.36 81.66,319.25 C84.88,318.07 87.82,316.21 91.00,314.92 C94.06,313.69 97.16,312.53 100.35,311.70 C103.41,310.91 106.59,310.70 109.69,310.09 C112.82,309.49 115.91,308.69 119.04,308.08 C122.14,307.48 125.25,306.86 128.39,306.47 C131.49,306.09 134.61,305.92 137.73,305.77 C140.84,305.62 143.96,305.60 147.08,305.57 C150.19,305.53 153.31,305.57 156.42,305.57 C159.54,305.57 162.65,305.58 165.77,305.57 C168.88,305.55 172.00,305.50 175.11,305.47 C178.23,305.43 181.35,305.38 184.46,305.37 C187.58,305.35 190.69,305.37 193.81,305.37 C196.92,305.37 200.04,305.37 203.15,305.37 C206.27,305.37 209.38,305.37 212.50,305.37 C215.61,305.37 218.73,305.37 221.84,305.37 C224.96,305.37 228.07,305.37 231.19,305.37 C234.30,305.37 237.42,305.37 240.54,305.37 C243.65,305.37 246.77,305.37 249.88,305.37 C253.00,305.37 256.11,305.37 259.23,305.37" fill="none" stroke="#16ABEC" stroke-width="1.4" stroke-linejoin="round"/>
<path d="M53.62,328.10 C56.73,327.93 59.85,327.81 62.96,327.60 C66.08,327.38 69.22,327.29 72.31,326.79 C75.47,326.28 78.56,325.41 81.66,324.58 C84.80,323.73 87.84,322.54 91.00,321.76 C94.08,321.00 97.21,320.42 100.35,319.95 C103.45,319.48 106.58,319.30 109.69,318.95 C112.81,318.59 115.93,318.24 119.04,317.84 C122.16,317.44 125.25,316.84 128.39,316.53 C131.49,316.23 134.61,316.13 137.73,316.03 C140.85,315.93 143.96,315.95 147.08,315.93 C150.19,315.91 153.31,315.91 156.42,315.93 C159.54,315.95 162.65,316.01 165.77,316.03 C168.88,316.05 172.00,316.03 175.11,316.03 C178.23,316.03 181.35,316.03 184.46,316.03 C187.58,316.03 190.69,316.03 193.81,316.03 C196.92,316.03 200.04,316.03 203.15,316.03 C206.27,316.03 209.38,316.03 212.50,316.03 C215.61,316.03 218.73,316.03 221.84,316.03 C224.96,316.03 228.07,316.01 231.19,316.03 C234.30,316.05 237.42,316.11 240.54,316.13 C243.65,316.15 246.77,316.15 249.88,316.13 C253.00,316.11 256.11,316.06 259.23,316.03" fill="none" stroke="#ED7D31" stroke-width="1.4" stroke-linejoin="round"/>
<path d="M53.62,328.30 C56.73,328.30 59.85,328.35 62.96,328.30 C66.08,328.25 69.20,328.15 72.31,328.00 C75.43,327.85 78.54,327.58 81.66,327.39 C84.77,327.21 87.89,327.09 91.00,326.89 C94.12,326.69 97.24,326.52 100.35,326.19 C103.48,325.85 106.59,325.40 109.69,324.88 C112.82,324.36 116.00,323.97 119.04,323.07 C122.25,322.12 125.38,320.84 128.39,319.35 C131.63,317.74 134.62,315.66 137.73,313.82 C140.85,311.97 144.00,310.19 147.08,308.28 C150.23,306.33 153.38,304.36 156.42,302.25 C159.61,300.04 162.69,297.66 165.77,295.31 C168.92,292.90 172.04,290.46 175.11,287.97 C178.27,285.40 181.33,282.72 184.46,280.12 C187.56,277.55 190.61,274.92 193.81,272.48 C196.84,270.16 199.87,267.80 203.15,265.84 C206.12,264.06 209.43,262.91 212.50,261.31 C215.66,259.66 218.74,257.84 221.84,256.08 C224.97,254.32 227.95,252.29 231.19,250.75 C234.20,249.33 237.40,248.34 240.54,247.23 C243.63,246.13 247.35,246.20 249.88,244.11 C253.85,240.84 256.11,235.93 259.23,231.84" fill="none" stroke="#FFC000" stroke-width="1.4" stroke-linejoin="round"/>
<path d="M53.62,328.10 C56.73,327.93 59.85,327.85 62.96,327.60 C66.09,327.34 69.20,326.93 72.31,326.59 C75.43,326.25 78.54,325.92 81.66,325.58 C84.77,325.25 87.89,324.95 91.00,324.58 C94.12,324.21 97.24,323.81 100.35,323.37 C103.47,322.93 106.58,322.47 109.69,321.96 C112.81,321.46 115.94,320.96 119.04,320.35 C122.17,319.75 125.28,319.06 128.39,318.34 C131.51,317.62 134.59,316.67 137.73,316.03 C140.82,315.40 143.96,314.99 147.08,314.52 C150.19,314.05 153.31,313.63 156.42,313.21 C159.54,312.79 162.64,312.27 165.77,312.01 C168.88,311.74 172.00,311.72 175.11,311.60 C178.23,311.49 181.35,311.47 184.46,311.30 C187.58,311.13 190.69,310.82 193.81,310.60 C196.92,310.38 200.03,310.14 203.15,309.99 C206.27,309.84 209.38,309.76 212.50,309.69 C215.61,309.63 218.73,309.61 221.84,309.59 C224.96,309.57 228.07,309.61 231.19,309.59 C234.30,309.57 237.42,309.52 240.54,309.49 C243.65,309.46 246.77,309.41 249.88,309.39 C253.00,309.37 256.11,309.39 259.23,309.39" fill="none" stroke="#1FAE4B" stroke-width="1.4" stroke-linejoin="round"/>
<path d="M53.62,327.80 C56.73,327.39 59.87,327.12 62.96,326.59 C66.10,326.05 69.27,325.53 72.31,324.58 C75.52,323.58 78.50,321.93 81.66,320.76 C84.73,319.61 87.81,318.43 91.00,317.64 C94.07,316.88 97.24,316.66 100.35,316.13 C103.47,315.59 106.58,315.01 109.69,314.42 C112.81,313.83 115.94,313.29 119.04,312.61 C122.17,311.92 125.25,310.99 128.39,310.30 C131.48,309.61 134.61,309.04 137.73,308.49 C140.84,307.93 143.99,307.62 147.08,306.98 C150.23,306.32 153.37,305.57 156.42,304.56 C159.61,303.52 162.71,302.22 165.77,300.84 C168.95,299.40 171.99,297.66 175.11,296.11 C178.22,294.58 181.39,293.18 184.46,291.59 C187.62,289.96 190.78,288.32 193.81,286.46 C197.01,284.49 199.93,282.06 203.15,280.12 C206.17,278.30 209.41,276.89 212.50,275.19 C215.64,273.47 218.91,271.92 221.84,269.86 C225.16,267.54 227.98,264.58 231.19,262.12 C234.22,259.79 237.40,257.67 240.54,255.48 C243.64,253.31 247.53,252.00 249.88,249.04 C253.92,243.95 256.11,237.64 259.23,231.94" fill="none" stroke="#4472C4" stroke-width="1.4" stroke-linejoin="round"/>
<rect x="39.6" y="207.6" width="224.29999999999998" height="120.70000000000002" fill="none" stroke="#5a5a5a" stroke-width="1.1"/>
<circle cx="51.2" cy="214.40" r="1.4" fill="#1AACEB"/>
<text x="56.80" y="216.30" font-size="6.1" text-anchor="start" fill="#303030" textLength="15.2" lengthAdjust="spacingAndGlyphs" class="lg">Sinora</text>
<line x1="85.6" y1="214.40" x2="96.8" y2="214.40" stroke="#16ABEC" stroke-width="1.55"/>
<text x="97.40" y="216.30" font-size="6.1" text-anchor="start" fill="#303030" textLength="60.7" lengthAdjust="spacingAndGlyphs" class="lg">2 per. Mov. Avg. (Sinora)</text>
<circle cx="51.2" cy="223.25" r="1.4" fill="#ED7D31"/>
<text x="56.80" y="225.15" font-size="6.1" text-anchor="start" fill="#303030" textLength="23.3" lengthAdjust="spacingAndGlyphs" class="lg">Cleopatra</text>
<line x1="85.6" y1="223.25" x2="96.8" y2="223.25" stroke="#ED7D31" stroke-width="1.55"/>
<text x="97.40" y="225.15" font-size="6.1" text-anchor="start" fill="#303030" textLength="69" lengthAdjust="spacingAndGlyphs" class="lg">2 per. Mov. Avg. (Cleopatra)</text>
<circle cx="51.2" cy="232.10" r="1.4" fill="#FFC000"/>
<text x="56.80" y="234.00" font-size="6.1" text-anchor="start" fill="#303030" textLength="24" lengthAdjust="spacingAndGlyphs" class="lg">Kennebec</text>
<line x1="85.6" y1="232.10" x2="96.8" y2="232.10" stroke="#FFC000" stroke-width="1.55"/>
<text x="97.40" y="234.00" font-size="6.1" text-anchor="start" fill="#303030" textLength="69.1" lengthAdjust="spacingAndGlyphs" class="lg">2 per. Mov. Avg. (Kennebec)</text>
<circle cx="51.2" cy="240.95" r="1.4" fill="#00B050"/>
<text x="56.80" y="242.85" font-size="6.1" text-anchor="start" fill="#303030" textLength="18" lengthAdjust="spacingAndGlyphs" class="lg">Désirée</text>
<line x1="85.6" y1="240.95" x2="96.8" y2="240.95" stroke="#1FAE4B" stroke-width="1.55"/>
<text x="97.40" y="242.85" font-size="6.1" text-anchor="start" fill="#303030" textLength="63.6" lengthAdjust="spacingAndGlyphs" class="lg">2 per. Mov. Avg. (Désirée)</text>
<circle cx="51.2" cy="249.80" r="1.4" fill="#0070C0"/>
<text x="56.80" y="251.70" font-size="6.1" text-anchor="start" fill="#303030" textLength="12.3" lengthAdjust="spacingAndGlyphs" class="lg">Agria</text>
<line x1="85.6" y1="249.80" x2="96.8" y2="249.80" stroke="#4472C4" stroke-width="1.55"/>
<text x="97.40" y="251.70" font-size="6.1" text-anchor="start" fill="#303030" textLength="57.8" lengthAdjust="spacingAndGlyphs" class="lg">2 per. Mov. Avg. (Agria)</text>
<rect x="280.6" y="18.5" width="263.6" height="155.0" fill="#fff" stroke="#e2e2e2" stroke-width="1"/>
<text x="284.20" y="13.90" font-size="12.2" text-anchor="start" fill="#000" >C</text>
<line x1="308.90" y1="147.50" x2="311.10" y2="147.50" stroke="#7a7a7a" stroke-width="1"/>
<text x="304.40" y="150.00" font-size="7.3" text-anchor="end" fill="#303030" >0</text>
<line x1="308.90" y1="127.68" x2="311.10" y2="127.68" stroke="#7a7a7a" stroke-width="1"/>
<text x="304.40" y="130.18" font-size="7.3" text-anchor="end" fill="#303030" >5</text>
<line x1="308.90" y1="107.87" x2="311.10" y2="107.87" stroke="#7a7a7a" stroke-width="1"/>
<text x="304.40" y="110.37" font-size="7.3" text-anchor="end" fill="#303030" >10</text>
<line x1="308.90" y1="88.05" x2="311.10" y2="88.05" stroke="#7a7a7a" stroke-width="1"/>
<text x="304.40" y="90.55" font-size="7.3" text-anchor="end" fill="#303030" >15</text>
<line x1="308.90" y1="68.23" x2="311.10" y2="68.23" stroke="#7a7a7a" stroke-width="1"/>
<text x="304.40" y="70.73" font-size="7.3" text-anchor="end" fill="#303030" >20</text>
<line x1="308.90" y1="48.42" x2="311.10" y2="48.42" stroke="#7a7a7a" stroke-width="1"/>
<text x="304.40" y="50.92" font-size="7.3" text-anchor="end" fill="#303030" >25</text>
<line x1="308.90" y1="28.60" x2="311.10" y2="28.60" stroke="#7a7a7a" stroke-width="1"/>
<text x="304.40" y="31.10" font-size="7.3" text-anchor="end" fill="#303030" >30</text>
<line x1="315.81" y1="147.50" x2="315.81" y2="149.50" stroke="#7a7a7a" stroke-width="0.8"/>
<line x1="325.24" y1="147.50" x2="325.24" y2="149.50" stroke="#7a7a7a" stroke-width="0.8"/>
<line x1="334.66" y1="147.50" x2="334.66" y2="149.50" stroke="#7a7a7a" stroke-width="0.8"/>
<line x1="344.09" y1="147.50" x2="344.09" y2="149.50" stroke="#7a7a7a" stroke-width="0.8"/>
<line x1="353.51" y1="147.50" x2="353.51" y2="149.50" stroke="#7a7a7a" stroke-width="0.8"/>
<line x1="362.94" y1="147.50" x2="362.94" y2="149.50" stroke="#7a7a7a" stroke-width="0.8"/>
<line x1="372.36" y1="147.50" x2="372.36" y2="149.50" stroke="#7a7a7a" stroke-width="0.8"/>
<line x1="381.79" y1="147.50" x2="381.79" y2="149.50" stroke="#7a7a7a" stroke-width="0.8"/>
<line x1="391.21" y1="147.50" x2="391.21" y2="149.50" stroke="#7a7a7a" stroke-width="0.8"/>
<line x1="400.64" y1="147.50" x2="400.64" y2="149.50" stroke="#7a7a7a" stroke-width="0.8"/>
<line x1="410.06" y1="147.50" x2="410.06" y2="149.50" stroke="#7a7a7a" stroke-width="0.8"/>
<line x1="419.49" y1="147.50" x2="419.49" y2="149.50" stroke="#7a7a7a" stroke-width="0.8"/>
<line x1="428.91" y1="147.50" x2="428.91" y2="149.50" stroke="#7a7a7a" stroke-width="0.8"/>
<line x1="438.34" y1="147.50" x2="438.34" y2="149.50" stroke="#7a7a7a" stroke-width="0.8"/>
<line x1="447.76" y1="147.50" x2="447.76" y2="149.50" stroke="#7a7a7a" stroke-width="0.8"/>
<line x1="457.19" y1="147.50" x2="457.19" y2="149.50" stroke="#7a7a7a" stroke-width="0.8"/>
<line x1="466.61" y1="147.50" x2="466.61" y2="149.50" stroke="#7a7a7a" stroke-width="0.8"/>
<line x1="476.04" y1="147.50" x2="476.04" y2="149.50" stroke="#7a7a7a" stroke-width="0.8"/>
<line x1="485.46" y1="147.50" x2="485.46" y2="149.50" stroke="#7a7a7a" stroke-width="0.8"/>
<line x1="494.89" y1="147.50" x2="494.89" y2="149.50" stroke="#7a7a7a" stroke-width="0.8"/>
<line x1="504.31" y1="147.50" x2="504.31" y2="149.50" stroke="#7a7a7a" stroke-width="0.8"/>
<line x1="513.74" y1="147.50" x2="513.74" y2="149.50" stroke="#7a7a7a" stroke-width="0.8"/>
<line x1="523.16" y1="147.50" x2="523.16" y2="149.50" stroke="#7a7a7a" stroke-width="0.8"/>
<line x1="532.59" y1="147.50" x2="532.59" y2="149.50" stroke="#7a7a7a" stroke-width="0.8"/>
<text x="325.24" y="159.80" font-size="7" text-anchor="middle" fill="#303030" textLength="3.2" lengthAdjust="spacingAndGlyphs" >II</text>
<text x="344.09" y="159.80" font-size="7" text-anchor="middle" fill="#303030" textLength="7.0" lengthAdjust="spacingAndGlyphs" >IV</text>
<text x="362.94" y="159.80" font-size="7" text-anchor="middle" fill="#303030" textLength="7.0" lengthAdjust="spacingAndGlyphs" >VI</text>
<text x="381.79" y="159.80" font-size="7" text-anchor="middle" fill="#303030" textLength="11.0" lengthAdjust="spacingAndGlyphs" >VIII</text>
<text x="400.64" y="159.80" font-size="7" text-anchor="middle" fill="#303030" textLength="4.0" lengthAdjust="spacingAndGlyphs" >X</text>
<text x="419.49" y="159.80" font-size="7" text-anchor="middle" fill="#303030" textLength="7.7" lengthAdjust="spacingAndGlyphs" >XII</text>
<text x="438.34" y="159.80" font-size="7" text-anchor="middle" fill="#303030" textLength="9.8" lengthAdjust="spacingAndGlyphs" >XIV</text>
<text x="457.19" y="159.80" font-size="7" text-anchor="middle" fill="#303030" textLength="9.8" lengthAdjust="spacingAndGlyphs" >XVI</text>
<text x="476.04" y="159.80" font-size="7" text-anchor="middle" fill="#303030" textLength="13.5" lengthAdjust="spacingAndGlyphs" >XVIII</text>
<text x="494.89" y="159.80" font-size="7" text-anchor="middle" fill="#303030" textLength="7.5" lengthAdjust="spacingAndGlyphs" >XX</text>
<text x="513.74" y="159.80" font-size="7" text-anchor="middle" fill="#303030" textLength="10.8" lengthAdjust="spacingAndGlyphs" >XXII</text>
<text x="532.59" y="159.80" font-size="7" text-anchor="middle" fill="#303030" textLength="13.3" lengthAdjust="spacingAndGlyphs" >XXIV</text>
<text x="428.50" y="170.30" font-size="7.4" text-anchor="middle" fill="#303030" textLength="25" lengthAdjust="spacingAndGlyphs" >Harvest</text>
<text x="0" y="0" font-size="7.9" text-anchor="middle" fill="#303030" textLength="62.0" lengthAdjust="spacingAndGlyphs" transform="translate(292.7,89.3) rotate(-90)">Minituber mass (g)</text>
<circle cx="315.81" cy="109.06" r="1.72" fill="#1AACEB"/>
<circle cx="325.24" cy="72.59" r="1.72" fill="#1AACEB"/>
<circle cx="334.66" cy="62.29" r="1.72" fill="#1AACEB"/>
<circle cx="344.09" cy="76.95" r="1.72" fill="#1AACEB"/>
<circle cx="353.51" cy="91.62" r="1.72" fill="#1AACEB"/>
<circle cx="362.94" cy="83.69" r="1.72" fill="#1AACEB"/>
<circle cx="372.36" cy="92.01" r="1.72" fill="#1AACEB"/>
<circle cx="381.79" cy="81.31" r="1.72" fill="#1AACEB"/>
<circle cx="391.21" cy="91.62" r="1.72" fill="#1AACEB"/>
<circle cx="400.64" cy="101.13" r="1.72" fill="#1AACEB"/>
<circle cx="410.06" cy="116.19" r="1.72" fill="#1AACEB"/>
<circle cx="419.49" cy="121.34" r="1.72" fill="#1AACEB"/>
<circle cx="428.91" cy="125.31" r="1.72" fill="#1AACEB"/>
<circle cx="438.34" cy="128.87" r="1.72" fill="#1AACEB"/>
<circle cx="447.76" cy="147.50" r="1.72" fill="#1AACEB"/>
<circle cx="457.19" cy="147.50" r="1.72" fill="#1AACEB"/>
<circle cx="466.61" cy="147.50" r="1.72" fill="#1AACEB"/>
<circle cx="476.04" cy="147.50" r="1.72" fill="#1AACEB"/>
<circle cx="485.46" cy="147.50" r="1.72" fill="#1AACEB"/>
<circle cx="494.89" cy="147.50" r="1.72" fill="#1AACEB"/>
<circle cx="504.31" cy="147.50" r="1.72" fill="#1AACEB"/>
<circle cx="513.74" cy="147.50" r="1.72" fill="#1AACEB"/>
<circle cx="523.16" cy="147.50" r="1.72" fill="#1AACEB"/>
<circle cx="532.59" cy="147.50" r="1.72" fill="#1AACEB"/>
<circle cx="315.81" cy="69.82" r="1.72" fill="#ED7D31"/>
<circle cx="325.24" cy="64.67" r="1.72" fill="#ED7D31"/>
<circle cx="334.66" cy="82.50" r="1.72" fill="#ED7D31"/>
<circle cx="344.09" cy="85.67" r="1.72" fill="#ED7D31"/>
<circle cx="353.51" cy="86.86" r="1.72" fill="#ED7D31"/>
<circle cx="362.94" cy="104.30" r="1.72" fill="#ED7D31"/>
<circle cx="372.36" cy="100.34" r="1.72" fill="#ED7D31"/>
<circle cx="381.79" cy="107.07" r="1.72" fill="#ED7D31"/>
<circle cx="391.21" cy="101.92" r="1.72" fill="#ED7D31"/>
<circle cx="400.64" cy="113.42" r="1.72" fill="#ED7D31"/>
<circle cx="410.06" cy="106.68" r="1.72" fill="#ED7D31"/>
<circle cx="419.49" cy="125.31" r="1.72" fill="#ED7D31"/>
<circle cx="428.91" cy="125.70" r="1.72" fill="#ED7D31"/>
<circle cx="438.34" cy="112.23" r="1.72" fill="#ED7D31"/>
<circle cx="447.76" cy="120.15" r="1.72" fill="#ED7D31"/>
<circle cx="457.19" cy="117.78" r="1.72" fill="#ED7D31"/>
<circle cx="466.61" cy="115.79" r="1.72" fill="#ED7D31"/>
<circle cx="476.04" cy="147.50" r="1.72" fill="#ED7D31"/>
<circle cx="485.46" cy="147.50" r="1.72" fill="#ED7D31"/>
<circle cx="494.89" cy="147.50" r="1.72" fill="#ED7D31"/>
<circle cx="504.31" cy="147.50" r="1.72" fill="#ED7D31"/>
<circle cx="513.74" cy="147.50" r="1.72" fill="#ED7D31"/>
<circle cx="523.16" cy="147.50" r="1.72" fill="#ED7D31"/>
<circle cx="532.59" cy="147.50" r="1.72" fill="#ED7D31"/>
<circle cx="315.81" cy="147.50" r="1.72" fill="#FFC000"/>
<circle cx="325.24" cy="147.50" r="1.72" fill="#FFC000"/>
<circle cx="334.66" cy="147.50" r="1.72" fill="#FFC000"/>
<circle cx="344.09" cy="114.21" r="1.72" fill="#FFC000"/>
<circle cx="353.51" cy="110.05" r="1.72" fill="#FFC000"/>
<circle cx="362.94" cy="143.93" r="1.72" fill="#FFC000"/>
<circle cx="372.36" cy="118.96" r="1.72" fill="#FFC000"/>
<circle cx="381.79" cy="126.10" r="1.72" fill="#FFC000"/>
<circle cx="391.21" cy="130.46" r="1.72" fill="#FFC000"/>
<circle cx="400.64" cy="103.90" r="1.72" fill="#FFC000"/>
<circle cx="410.06" cy="94.00" r="1.72" fill="#FFC000"/>
<circle cx="419.49" cy="108.26" r="1.72" fill="#FFC000"/>
<circle cx="428.91" cy="93.20" r="1.72" fill="#FFC000"/>
<circle cx="438.34" cy="86.86" r="1.72" fill="#FFC000"/>
<circle cx="447.76" cy="95.58" r="1.72" fill="#FFC000"/>
<circle cx="457.19" cy="97.96" r="1.72" fill="#FFC000"/>
<circle cx="466.61" cy="109.45" r="1.72" fill="#FFC000"/>
<circle cx="476.04" cy="100.73" r="1.72" fill="#FFC000"/>
<circle cx="485.46" cy="110.44" r="1.72" fill="#FFC000"/>
<circle cx="494.89" cy="103.51" r="1.72" fill="#FFC000"/>
<circle cx="504.31" cy="109.85" r="1.72" fill="#FFC000"/>
<circle cx="513.74" cy="123.32" r="1.72" fill="#FFC000"/>
<circle cx="523.16" cy="109.06" r="1.72" fill="#FFC000"/>
<circle cx="532.59" cy="135.61" r="1.72" fill="#FFC000"/>
<circle cx="315.81" cy="147.50" r="1.72" fill="#00B050"/>
<circle cx="325.24" cy="92.81" r="1.72" fill="#00B050"/>
<circle cx="334.66" cy="95.58" r="1.72" fill="#00B050"/>
<circle cx="344.09" cy="90.82" r="1.72" fill="#00B050"/>
<circle cx="353.51" cy="99.15" r="1.72" fill="#00B050"/>
<circle cx="362.94" cy="98.35" r="1.72" fill="#00B050"/>
<circle cx="372.36" cy="101.13" r="1.72" fill="#00B050"/>
<circle cx="381.79" cy="109.45" r="1.72" fill="#00B050"/>
<circle cx="391.21" cy="95.98" r="1.72" fill="#00B050"/>
<circle cx="400.64" cy="117.38" r="1.72" fill="#00B050"/>
<circle cx="410.06" cy="111.83" r="1.72" fill="#00B050"/>
<circle cx="419.49" cy="119.36" r="1.72" fill="#00B050"/>
<circle cx="428.91" cy="122.53" r="1.72" fill="#00B050"/>
<circle cx="438.34" cy="147.50" r="1.72" fill="#00B050"/>
<circle cx="447.76" cy="114.21" r="1.72" fill="#00B050"/>
<circle cx="457.19" cy="126.49" r="1.72" fill="#00B050"/>
<circle cx="466.61" cy="132.04" r="1.72" fill="#00B050"/>
<circle cx="476.04" cy="120.55" r="1.72" fill="#00B050"/>
<circle cx="485.46" cy="121.74" r="1.72" fill="#00B050"/>
<circle cx="494.89" cy="147.50" r="1.72" fill="#00B050"/>
<circle cx="504.31" cy="147.50" r="1.72" fill="#00B050"/>
<circle cx="513.74" cy="147.50" r="1.72" fill="#00B050"/>
<circle cx="523.16" cy="147.50" r="1.72" fill="#00B050"/>
<circle cx="532.59" cy="147.50" r="1.72" fill="#00B050"/>
<circle cx="315.81" cy="147.50" r="1.72" fill="#0070C0"/>
<circle cx="325.24" cy="78.54" r="1.72" fill="#0070C0"/>
<circle cx="334.66" cy="95.98" r="1.72" fill="#0070C0"/>
<circle cx="344.09" cy="109.06" r="1.72" fill="#0070C0"/>
<circle cx="353.51" cy="101.92" r="1.72" fill="#0070C0"/>
<circle cx="362.94" cy="97.56" r="1.72" fill="#0070C0"/>
<circle cx="372.36" cy="86.07" r="1.72" fill="#0070C0"/>
<circle cx="381.79" cy="101.13" r="1.72" fill="#0070C0"/>
<circle cx="391.21" cy="102.32" r="1.72" fill="#0070C0"/>
<circle cx="400.64" cy="107.87" r="1.72" fill="#0070C0"/>
<circle cx="410.06" cy="101.53" r="1.72" fill="#0070C0"/>
<circle cx="419.49" cy="114.21" r="1.72" fill="#0070C0"/>
<circle cx="428.91" cy="90.43" r="1.72" fill="#0070C0"/>
<circle cx="438.34" cy="107.47" r="1.72" fill="#0070C0"/>
<circle cx="447.76" cy="97.96" r="1.72" fill="#0070C0"/>
<circle cx="457.19" cy="104.30" r="1.72" fill="#0070C0"/>
<circle cx="466.61" cy="108.26" r="1.72" fill="#0070C0"/>
<circle cx="476.04" cy="101.13" r="1.72" fill="#0070C0"/>
<circle cx="485.46" cy="78.54" r="1.72" fill="#0070C0"/>
<circle cx="494.89" cy="110.05" r="1.72" fill="#0070C0"/>
<circle cx="504.31" cy="110.44" r="1.72" fill="#0070C0"/>
<circle cx="513.74" cy="122.13" r="1.72" fill="#0070C0"/>
<circle cx="523.16" cy="121.74" r="1.72" fill="#0070C0"/>
<circle cx="532.59" cy="133.23" r="1.72" fill="#0070C0"/>
<path d="M325.24,90.82 L334.66,67.44 L344.09,69.62 L353.51,84.28 L362.94,87.65 L372.36,87.85 L381.79,86.66 L391.21,86.46 L400.64,96.37 L410.06,108.66 L419.49,118.77 L428.91,123.32 L438.34,127.09 L447.76,138.19 L457.19,147.50 L466.61,147.50 L476.04,147.50 L485.46,147.50 L494.89,147.50 L504.31,147.50 L513.74,147.50 L523.16,147.50 L532.59,147.50" fill="none" stroke="#16ABEC" stroke-width="1.4" stroke-linejoin="round"/>
<path d="M325.24,67.24 L334.66,73.58 L344.09,84.09 L353.51,86.27 L362.94,95.58 L372.36,102.32 L381.79,103.71 L391.21,104.50 L400.64,107.67 L410.06,110.05 L419.49,115.99 L428.91,125.50 L438.34,118.96 L447.76,116.19 L457.19,118.96 L466.61,116.78 L476.04,131.65 L485.46,147.50 L494.89,147.50 L504.31,147.50 L513.74,147.50 L523.16,147.50 L532.59,147.50" fill="none" stroke="#ED7D31" stroke-width="1.4" stroke-linejoin="round"/>
<path d="M325.24,147.50 L334.66,147.50 L344.09,130.85 L353.51,112.13 L362.94,126.99 L372.36,131.45 L381.79,122.53 L391.21,128.28 L400.64,117.18 L410.06,98.95 L419.49,101.13 L428.91,100.73 L438.34,90.03 L447.76,91.22 L457.19,96.77 L466.61,103.71 L476.04,105.09 L485.46,105.59 L494.89,106.97 L504.31,106.68 L513.74,116.59 L523.16,116.19 L532.59,122.33" fill="none" stroke="#FFC000" stroke-width="1.4" stroke-linejoin="round"/>
<path d="M325.24,120.15 L334.66,94.19 L344.09,93.20 L353.51,94.99 L362.94,98.75 L372.36,99.74 L381.79,105.29 L391.21,102.71 L400.64,106.68 L410.06,114.60 L419.49,115.60 L428.91,120.95 L438.34,135.02 L447.76,130.85 L457.19,120.35 L466.61,129.27 L476.04,126.30 L485.46,121.14 L494.89,134.62 L504.31,147.50 L513.74,147.50 L523.16,147.50 L532.59,147.50" fill="none" stroke="#1FAE4B" stroke-width="1.4" stroke-linejoin="round"/>
<path d="M325.24,113.02 L334.66,87.26 L344.09,102.52 L353.51,105.49 L362.94,99.74 L372.36,91.82 L381.79,93.60 L391.21,101.72 L400.64,105.09 L410.06,104.70 L419.49,107.87 L428.91,102.32 L438.34,98.95 L447.76,102.71 L457.19,101.13 L466.61,106.28 L476.04,104.70 L485.46,89.83 L494.89,94.29 L504.31,110.24 L513.74,116.29 L523.16,121.94 L532.59,127.49" fill="none" stroke="#4472C4" stroke-width="1.4" stroke-linejoin="round"/>
<rect x="311.1" y="28.6" width="226.19999999999993" height="118.9" fill="none" stroke="#5a5a5a" stroke-width="1.1"/>
<circle cx="421.1" cy="33.80" r="1.4" fill="#1AACEB"/>
<text x="425.90" y="35.70" font-size="6.1" text-anchor="start" fill="#303030" textLength="15.2" lengthAdjust="spacingAndGlyphs" class="lg">Sinora</text>
<line x1="454.9" y1="33.80" x2="466.0" y2="33.80" stroke="#16ABEC" stroke-width="1.55"/>
<text x="466.80" y="35.70" font-size="6.1" text-anchor="start" fill="#303030" textLength="60.7" lengthAdjust="spacingAndGlyphs" class="lg">2 per. Mov. Avg. (Sinora)</text>
<circle cx="421.1" cy="43.17" r="1.4" fill="#ED7D31"/>
<text x="425.90" y="45.07" font-size="6.1" text-anchor="start" fill="#303030" textLength="23.3" lengthAdjust="spacingAndGlyphs" class="lg">Cleopatra</text>
<line x1="454.9" y1="43.17" x2="466.0" y2="43.17" stroke="#ED7D31" stroke-width="1.55"/>
<text x="466.80" y="45.07" font-size="6.1" text-anchor="start" fill="#303030" textLength="69" lengthAdjust="spacingAndGlyphs" class="lg">2 per. Mov. Avg. (Cleopatra)</text>
<circle cx="421.1" cy="52.55" r="1.4" fill="#FFC000"/>
<text x="425.90" y="54.45" font-size="6.1" text-anchor="start" fill="#303030" textLength="24" lengthAdjust="spacingAndGlyphs" class="lg">Kennebec</text>
<line x1="454.9" y1="52.55" x2="466.0" y2="52.55" stroke="#FFC000" stroke-width="1.55"/>
<text x="466.80" y="54.45" font-size="6.1" text-anchor="start" fill="#303030" textLength="69.1" lengthAdjust="spacingAndGlyphs" class="lg">2 per. Mov. Avg. (Kennebec)</text>
<circle cx="421.1" cy="61.92" r="1.4" fill="#00B050"/>
<text x="425.90" y="63.82" font-size="6.1" text-anchor="start" fill="#303030" textLength="18" lengthAdjust="spacingAndGlyphs" class="lg">Désirée</text>
<line x1="454.9" y1="61.92" x2="466.0" y2="61.92" stroke="#1FAE4B" stroke-width="1.55"/>
<text x="466.80" y="63.82" font-size="6.1" text-anchor="start" fill="#303030" textLength="63.6" lengthAdjust="spacingAndGlyphs" class="lg">2 per. Mov. Avg. (Désirée)</text>
<circle cx="421.1" cy="71.30" r="1.4" fill="#0070C0"/>
<text x="425.90" y="73.20" font-size="6.1" text-anchor="start" fill="#303030" textLength="12.3" lengthAdjust="spacingAndGlyphs" class="lg">Agria</text>
<line x1="454.9" y1="71.30" x2="466.0" y2="71.30" stroke="#4472C4" stroke-width="1.55"/>
<text x="466.80" y="73.20" font-size="6.1" text-anchor="start" fill="#303030" textLength="57.8" lengthAdjust="spacingAndGlyphs" class="lg">2 per. Mov. Avg. (Agria)</text>
<rect x="281.5" y="197.6" width="262.9" height="154.79999999999998" fill="#fff" stroke="#e2e2e2" stroke-width="1"/>
<text x="285.00" y="194.20" font-size="12.2" text-anchor="start" fill="#000" >D</text>
<line x1="308.90" y1="326.90" x2="311.10" y2="326.90" stroke="#7a7a7a" stroke-width="1"/>
<text x="304.40" y="329.40" font-size="7.3" text-anchor="end" fill="#303030" >0</text>
<line x1="308.90" y1="303.00" x2="311.10" y2="303.00" stroke="#7a7a7a" stroke-width="1"/>
<text x="304.40" y="305.50" font-size="7.3" text-anchor="end" fill="#303030" >4</text>
<line x1="308.90" y1="279.10" x2="311.10" y2="279.10" stroke="#7a7a7a" stroke-width="1"/>
<text x="304.40" y="281.60" font-size="7.3" text-anchor="end" fill="#303030" >8</text>
<line x1="308.90" y1="255.20" x2="311.10" y2="255.20" stroke="#7a7a7a" stroke-width="1"/>
<text x="304.40" y="257.70" font-size="7.3" text-anchor="end" fill="#303030" >12</text>
<line x1="308.90" y1="231.30" x2="311.10" y2="231.30" stroke="#7a7a7a" stroke-width="1"/>
<text x="304.40" y="233.80" font-size="7.3" text-anchor="end" fill="#303030" >16</text>
<line x1="308.90" y1="207.40" x2="311.10" y2="207.40" stroke="#7a7a7a" stroke-width="1"/>
<text x="304.40" y="209.90" font-size="7.3" text-anchor="end" fill="#303030" >20</text>
<line x1="315.81" y1="326.90" x2="315.81" y2="328.90" stroke="#7a7a7a" stroke-width="0.8"/>
<line x1="325.22" y1="326.90" x2="325.22" y2="328.90" stroke="#7a7a7a" stroke-width="0.8"/>
<line x1="334.63" y1="326.90" x2="334.63" y2="328.90" stroke="#7a7a7a" stroke-width="0.8"/>
<line x1="344.04" y1="326.90" x2="344.04" y2="328.90" stroke="#7a7a7a" stroke-width="0.8"/>
<line x1="353.46" y1="326.90" x2="353.46" y2="328.90" stroke="#7a7a7a" stroke-width="0.8"/>
<line x1="362.87" y1="326.90" x2="362.87" y2="328.90" stroke="#7a7a7a" stroke-width="0.8"/>
<line x1="372.28" y1="326.90" x2="372.28" y2="328.90" stroke="#7a7a7a" stroke-width="0.8"/>
<line x1="381.69" y1="326.90" x2="381.69" y2="328.90" stroke="#7a7a7a" stroke-width="0.8"/>
<line x1="391.11" y1="326.90" x2="391.11" y2="328.90" stroke="#7a7a7a" stroke-width="0.8"/>
<line x1="400.52" y1="326.90" x2="400.52" y2="328.90" stroke="#7a7a7a" stroke-width="0.8"/>
<line x1="409.93" y1="326.90" x2="409.93" y2="328.90" stroke="#7a7a7a" stroke-width="0.8"/>
<line x1="419.34" y1="326.90" x2="419.34" y2="328.90" stroke="#7a7a7a" stroke-width="0.8"/>
<line x1="428.76" y1="326.90" x2="428.76" y2="328.90" stroke="#7a7a7a" stroke-width="0.8"/>
<line x1="438.17" y1="326.90" x2="438.17" y2="328.90" stroke="#7a7a7a" stroke-width="0.8"/>
<line x1="447.58" y1="326.90" x2="447.58" y2="328.90" stroke="#7a7a7a" stroke-width="0.8"/>
<line x1="456.99" y1="326.90" x2="456.99" y2="328.90" stroke="#7a7a7a" stroke-width="0.8"/>
<line x1="466.41" y1="326.90" x2="466.41" y2="328.90" stroke="#7a7a7a" stroke-width="0.8"/>
<line x1="475.82" y1="326.90" x2="475.82" y2="328.90" stroke="#7a7a7a" stroke-width="0.8"/>
<line x1="485.23" y1="326.90" x2="485.23" y2="328.90" stroke="#7a7a7a" stroke-width="0.8"/>
<line x1="494.64" y1="326.90" x2="494.64" y2="328.90" stroke="#7a7a7a" stroke-width="0.8"/>
<line x1="504.06" y1="326.90" x2="504.06" y2="328.90" stroke="#7a7a7a" stroke-width="0.8"/>
<line x1="513.47" y1="326.90" x2="513.47" y2="328.90" stroke="#7a7a7a" stroke-width="0.8"/>
<line x1="522.88" y1="326.90" x2="522.88" y2="328.90" stroke="#7a7a7a" stroke-width="0.8"/>
<line x1="532.29" y1="326.90" x2="532.29" y2="328.90" stroke="#7a7a7a" stroke-width="0.8"/>
<text x="325.22" y="339.10" font-size="7" text-anchor="middle" fill="#303030" textLength="3.2" lengthAdjust="spacingAndGlyphs" >II</text>
<text x="344.04" y="339.10" font-size="7" text-anchor="middle" fill="#303030" textLength="7.0" lengthAdjust="spacingAndGlyphs" >IV</text>
<text x="362.87" y="339.10" font-size="7" text-anchor="middle" fill="#303030" textLength="7.0" lengthAdjust="spacingAndGlyphs" >VI</text>
<text x="381.69" y="339.10" font-size="7" text-anchor="middle" fill="#303030" textLength="11.0" lengthAdjust="spacingAndGlyphs" >VIII</text>
<text x="400.52" y="339.10" font-size="7" text-anchor="middle" fill="#303030" textLength="4.0" lengthAdjust="spacingAndGlyphs" >X</text>
<text x="419.34" y="339.10" font-size="7" text-anchor="middle" fill="#303030" textLength="7.7" lengthAdjust="spacingAndGlyphs" >XII</text>
<text x="438.17" y="339.10" font-size="7" text-anchor="middle" fill="#303030" textLength="9.8" lengthAdjust="spacingAndGlyphs" >XIV</text>
<text x="456.99" y="339.10" font-size="7" text-anchor="middle" fill="#303030" textLength="9.8" lengthAdjust="spacingAndGlyphs" >XVI</text>
<text x="475.82" y="339.10" font-size="7" text-anchor="middle" fill="#303030" textLength="13.5" lengthAdjust="spacingAndGlyphs" >XVIII</text>
<text x="494.64" y="339.10" font-size="7" text-anchor="middle" fill="#303030" textLength="7.5" lengthAdjust="spacingAndGlyphs" >XX</text>
<text x="513.47" y="339.10" font-size="7" text-anchor="middle" fill="#303030" textLength="10.8" lengthAdjust="spacingAndGlyphs" >XXII</text>
<text x="532.29" y="339.10" font-size="7" text-anchor="middle" fill="#303030" textLength="13.3" lengthAdjust="spacingAndGlyphs" >XXIV</text>
<text x="424.30" y="349.40" font-size="7.4" text-anchor="middle" fill="#303030" textLength="25" lengthAdjust="spacingAndGlyphs" >Harvest</text>
<text x="0" y="0" font-size="7.9" text-anchor="middle" fill="#303030" textLength="62.0" lengthAdjust="spacingAndGlyphs" transform="translate(292.7,269.4) rotate(-90)">Minituber mass (g)</text>
<circle cx="315.81" cy="264.16" r="1.72" fill="#1AACEB"/>
<circle cx="325.22" cy="276.11" r="1.72" fill="#1AACEB"/>
<circle cx="334.63" cy="274.32" r="1.72" fill="#1AACEB"/>
<circle cx="344.04" cy="286.27" r="1.72" fill="#1AACEB"/>
<circle cx="353.46" cy="285.07" r="1.72" fill="#1AACEB"/>
<circle cx="362.87" cy="289.85" r="1.72" fill="#1AACEB"/>
<circle cx="372.28" cy="292.84" r="1.72" fill="#1AACEB"/>
<circle cx="381.69" cy="292.25" r="1.72" fill="#1AACEB"/>
<circle cx="391.11" cy="301.21" r="1.72" fill="#1AACEB"/>
<circle cx="400.52" cy="313.75" r="1.72" fill="#1AACEB"/>
<circle cx="409.93" cy="304.79" r="1.72" fill="#1AACEB"/>
<circle cx="419.34" cy="326.90" r="1.72" fill="#1AACEB"/>
<circle cx="428.76" cy="326.90" r="1.72" fill="#1AACEB"/>
<circle cx="438.17" cy="326.90" r="1.72" fill="#1AACEB"/>
<circle cx="447.58" cy="326.90" r="1.72" fill="#1AACEB"/>
<circle cx="456.99" cy="326.90" r="1.72" fill="#1AACEB"/>
<circle cx="466.41" cy="326.90" r="1.72" fill="#1AACEB"/>
<circle cx="475.82" cy="326.90" r="1.72" fill="#1AACEB"/>
<circle cx="485.23" cy="326.90" r="1.72" fill="#1AACEB"/>
<circle cx="494.64" cy="326.90" r="1.72" fill="#1AACEB"/>
<circle cx="504.06" cy="326.90" r="1.72" fill="#1AACEB"/>
<circle cx="513.47" cy="326.90" r="1.72" fill="#1AACEB"/>
<circle cx="522.88" cy="326.90" r="1.72" fill="#1AACEB"/>
<circle cx="532.29" cy="326.90" r="1.72" fill="#1AACEB"/>
<circle cx="315.81" cy="286.27" r="1.72" fill="#ED7D31"/>
<circle cx="325.22" cy="326.90" r="1.72" fill="#ED7D31"/>
<circle cx="334.63" cy="292.25" r="1.72" fill="#ED7D31"/>
<circle cx="344.04" cy="298.22" r="1.72" fill="#ED7D31"/>
<circle cx="353.46" cy="300.61" r="1.72" fill="#ED7D31"/>
<circle cx="362.87" cy="304.19" r="1.72" fill="#ED7D31"/>
<circle cx="372.28" cy="299.41" r="1.72" fill="#ED7D31"/>
<circle cx="381.69" cy="306.58" r="1.72" fill="#ED7D31"/>
<circle cx="391.11" cy="302.70" r="1.72" fill="#ED7D31"/>
<circle cx="400.52" cy="311.96" r="1.72" fill="#ED7D31"/>
<circle cx="409.93" cy="301.81" r="1.72" fill="#ED7D31"/>
<circle cx="419.34" cy="286.27" r="1.72" fill="#ED7D31"/>
<circle cx="428.76" cy="326.90" r="1.72" fill="#ED7D31"/>
<circle cx="438.17" cy="326.90" r="1.72" fill="#ED7D31"/>
<circle cx="447.58" cy="326.90" r="1.72" fill="#ED7D31"/>
<circle cx="456.99" cy="326.90" r="1.72" fill="#ED7D31"/>
<circle cx="466.41" cy="326.90" r="1.72" fill="#ED7D31"/>
<circle cx="475.82" cy="326.90" r="1.72" fill="#ED7D31"/>
<circle cx="485.23" cy="326.90" r="1.72" fill="#ED7D31"/>
<circle cx="494.64" cy="326.90" r="1.72" fill="#ED7D31"/>
<circle cx="504.06" cy="326.90" r="1.72" fill="#ED7D31"/>
<circle cx="513.47" cy="326.90" r="1.72" fill="#ED7D31"/>
<circle cx="522.88" cy="326.90" r="1.72" fill="#ED7D31"/>
<circle cx="532.29" cy="326.90" r="1.72" fill="#ED7D31"/>
<circle cx="315.81" cy="326.90" r="1.72" fill="#FFC000"/>
<circle cx="325.22" cy="326.90" r="1.72" fill="#FFC000"/>
<circle cx="334.63" cy="274.92" r="1.72" fill="#FFC000"/>
<circle cx="344.04" cy="291.65" r="1.72" fill="#FFC000"/>
<circle cx="353.46" cy="285.67" r="1.72" fill="#FFC000"/>
<circle cx="362.87" cy="279.10" r="1.72" fill="#FFC000"/>
<circle cx="372.28" cy="283.28" r="1.72" fill="#FFC000"/>
<circle cx="381.69" cy="264.76" r="1.72" fill="#FFC000"/>
<circle cx="391.11" cy="276.11" r="1.72" fill="#FFC000"/>
<circle cx="400.52" cy="279.40" r="1.72" fill="#FFC000"/>
<circle cx="409.93" cy="280.59" r="1.72" fill="#FFC000"/>
<circle cx="419.34" cy="281.19" r="1.72" fill="#FFC000"/>
<circle cx="428.76" cy="280.59" r="1.72" fill="#FFC000"/>
<circle cx="438.17" cy="255.80" r="1.72" fill="#FFC000"/>
<circle cx="447.58" cy="262.97" r="1.72" fill="#FFC000"/>
<circle cx="456.99" cy="263.56" r="1.72" fill="#FFC000"/>
<circle cx="466.41" cy="253.41" r="1.72" fill="#FFC000"/>
<circle cx="475.82" cy="269.54" r="1.72" fill="#FFC000"/>
<circle cx="485.23" cy="255.20" r="1.72" fill="#FFC000"/>
<circle cx="494.64" cy="267.15" r="1.72" fill="#FFC000"/>
<circle cx="504.06" cy="277.90" r="1.72" fill="#FFC000"/>
<circle cx="513.47" cy="275.51" r="1.72" fill="#FFC000"/>
<circle cx="522.88" cy="293.44" r="1.72" fill="#FFC000"/>
<circle cx="532.29" cy="309.57" r="1.72" fill="#FFC000"/>
<circle cx="315.81" cy="326.90" r="1.72" fill="#00B050"/>
<circle cx="325.22" cy="283.88" r="1.72" fill="#00B050"/>
<circle cx="334.63" cy="289.85" r="1.72" fill="#00B050"/>
<circle cx="344.04" cy="299.41" r="1.72" fill="#00B050"/>
<circle cx="353.46" cy="286.87" r="1.72" fill="#00B050"/>
<circle cx="362.87" cy="296.13" r="1.72" fill="#00B050"/>
<circle cx="372.28" cy="295.83" r="1.72" fill="#00B050"/>
<circle cx="381.69" cy="289.26" r="1.72" fill="#00B050"/>
<circle cx="391.11" cy="280.59" r="1.72" fill="#00B050"/>
<circle cx="400.52" cy="283.28" r="1.72" fill="#00B050"/>
<circle cx="409.93" cy="298.22" r="1.72" fill="#00B050"/>
<circle cx="419.34" cy="296.43" r="1.72" fill="#00B050"/>
<circle cx="428.76" cy="306.58" r="1.72" fill="#00B050"/>
<circle cx="438.17" cy="277.31" r="1.72" fill="#00B050"/>
<circle cx="447.58" cy="307.18" r="1.72" fill="#00B050"/>
<circle cx="456.99" cy="300.01" r="1.72" fill="#00B050"/>
<circle cx="466.41" cy="304.19" r="1.72" fill="#00B050"/>
<circle cx="475.82" cy="326.90" r="1.72" fill="#00B050"/>
<circle cx="485.23" cy="326.90" r="1.72" fill="#00B050"/>
<circle cx="494.64" cy="326.90" r="1.72" fill="#00B050"/>
<circle cx="504.06" cy="326.90" r="1.72" fill="#00B050"/>
<circle cx="513.47" cy="326.90" r="1.72" fill="#00B050"/>
<circle cx="522.88" cy="326.90" r="1.72" fill="#00B050"/>
<circle cx="532.29" cy="326.90" r="1.72" fill="#00B050"/>
<circle cx="315.81" cy="326.90" r="1.72" fill="#0070C0"/>
<circle cx="325.22" cy="272.53" r="1.72" fill="#0070C0"/>
<circle cx="334.63" cy="277.31" r="1.72" fill="#0070C0"/>
<circle cx="344.04" cy="268.94" r="1.72" fill="#0070C0"/>
<circle cx="353.46" cy="274.32" r="1.72" fill="#0070C0"/>
<circle cx="362.87" cy="279.70" r="1.72" fill="#0070C0"/>
<circle cx="372.28" cy="270.44" r="1.72" fill="#0070C0"/>
<circle cx="381.69" cy="282.69" r="1.72" fill="#0070C0"/>
<circle cx="391.11" cy="288.66" r="1.72" fill="#0070C0"/>
<circle cx="400.52" cy="300.61" r="1.72" fill="#0070C0"/>
<circle cx="409.93" cy="288.06" r="1.72" fill="#0070C0"/>
<circle cx="419.34" cy="284.78" r="1.72" fill="#0070C0"/>
<circle cx="428.76" cy="263.56" r="1.72" fill="#0070C0"/>
<circle cx="438.17" cy="269.54" r="1.72" fill="#0070C0"/>
<circle cx="447.58" cy="275.51" r="1.72" fill="#0070C0"/>
<circle cx="456.99" cy="259.38" r="1.72" fill="#0070C0"/>
<circle cx="466.41" cy="272.23" r="1.72" fill="#0070C0"/>
<circle cx="475.82" cy="273.72" r="1.72" fill="#0070C0"/>
<circle cx="485.23" cy="254.60" r="1.72" fill="#0070C0"/>
<circle cx="494.64" cy="272.23" r="1.72" fill="#0070C0"/>
<circle cx="504.06" cy="272.23" r="1.72" fill="#0070C0"/>
<circle cx="513.47" cy="271.33" r="1.72" fill="#0070C0"/>
<circle cx="522.88" cy="276.71" r="1.72" fill="#0070C0"/>
<circle cx="532.29" cy="308.97" r="1.72" fill="#0070C0"/>
<path d="M325.22,270.14 L334.63,275.22 L344.04,280.29 L353.46,285.67 L362.87,287.46 L372.28,291.35 L381.69,292.54 L391.11,296.73 L400.52,307.48 L409.93,309.27 L419.34,315.85 L428.76,326.90 L438.17,326.90 L447.58,326.90 L456.99,326.90 L466.41,326.90 L475.82,326.90 L485.23,326.90 L494.64,326.90 L504.06,326.90 L513.47,326.90 L522.88,326.90 L532.29,326.90" fill="none" stroke="#16ABEC" stroke-width="1.4" stroke-linejoin="round"/>
<path d="M325.22,306.58 L334.63,309.57 L344.04,295.23 L353.46,299.41 L362.87,302.40 L372.28,301.81 L381.69,303.00 L391.11,304.64 L400.52,307.33 L409.93,306.88 L419.34,294.04 L428.76,306.58 L438.17,326.90 L447.58,326.90 L456.99,326.90 L466.41,326.90 L475.82,326.90 L485.23,326.90 L494.64,326.90 L504.06,326.90 L513.47,326.90 L522.88,326.90 L532.29,326.90" fill="none" stroke="#ED7D31" stroke-width="1.4" stroke-linejoin="round"/>
<path d="M325.22,326.90 L334.63,300.91 L344.04,283.28 L353.46,288.66 L362.87,282.39 L372.28,281.19 L381.69,274.02 L391.11,270.44 L400.52,277.76 L409.93,280.00 L419.34,280.89 L428.76,280.89 L438.17,268.20 L447.58,259.38 L456.99,263.27 L466.41,258.49 L475.82,261.47 L485.23,262.37 L494.64,261.17 L504.06,272.53 L513.47,276.71 L522.88,284.48 L532.29,301.51" fill="none" stroke="#FFC000" stroke-width="1.4" stroke-linejoin="round"/>
<path d="M325.22,305.39 L334.63,286.87 L344.04,294.63 L353.46,293.14 L362.87,291.50 L372.28,295.98 L381.69,292.54 L391.11,284.93 L400.52,281.94 L409.93,290.75 L419.34,297.32 L428.76,301.51 L438.17,291.95 L447.58,292.25 L456.99,303.60 L466.41,302.10 L475.82,315.55 L485.23,326.90 L494.64,326.90 L504.06,326.90 L513.47,326.90 L522.88,326.90 L532.29,326.90" fill="none" stroke="#1FAE4B" stroke-width="1.4" stroke-linejoin="round"/>
<path d="M325.22,299.71 L334.63,274.92 L344.04,273.12 L353.46,271.63 L362.87,277.01 L372.28,275.07 L381.69,276.56 L391.11,285.67 L400.52,294.63 L409.93,294.34 L419.34,286.42 L428.76,274.17 L438.17,266.55 L447.58,272.53 L456.99,267.45 L466.41,265.81 L475.82,272.98 L485.23,264.16 L494.64,263.42 L504.06,272.23 L513.47,271.78 L522.88,274.02 L532.29,292.84" fill="none" stroke="#2a74c4" stroke-width="1.4" stroke-linejoin="round"/>
<rect x="311.1" y="207.4" width="225.89999999999998" height="119.49999999999997" fill="none" stroke="#5a5a5a" stroke-width="1.1"/>
<circle cx="322.6" cy="214.20" r="1.4" fill="#1AACEB"/>
<text x="326.70" y="216.10" font-size="6.1" text-anchor="start" fill="#303030" textLength="15.2" lengthAdjust="spacingAndGlyphs" class="lg">Sinora</text>
<line x1="356.9" y1="214.20" x2="368.0" y2="214.20" stroke="#16ABEC" stroke-width="1.55"/>
<text x="368.70" y="216.10" font-size="6.1" text-anchor="start" fill="#303030" textLength="60.7" lengthAdjust="spacingAndGlyphs" class="lg">2 per. Mov. Avg. (Sinora)</text>
<circle cx="322.6" cy="223.10" r="1.4" fill="#ED7D31"/>
<text x="326.70" y="225.00" font-size="6.1" text-anchor="start" fill="#303030" textLength="23.3" lengthAdjust="spacingAndGlyphs" class="lg">Cleopatra</text>
<line x1="356.9" y1="223.10" x2="368.0" y2="223.10" stroke="#ED7D31" stroke-width="1.55"/>
<text x="368.70" y="225.00" font-size="6.1" text-anchor="start" fill="#303030" textLength="69" lengthAdjust="spacingAndGlyphs" class="lg">2 per. Mov. Avg. (Cleopatra)</text>
<circle cx="322.6" cy="232.00" r="1.4" fill="#FFC000"/>
<text x="326.70" y="233.90" font-size="6.1" text-anchor="start" fill="#303030" textLength="24" lengthAdjust="spacingAndGlyphs" class="lg">Kennebec</text>
<line x1="356.9" y1="232.00" x2="368.0" y2="232.00" stroke="#FFC000" stroke-width="1.55"/>
<text x="368.70" y="233.90" font-size="6.1" text-anchor="start" fill="#303030" textLength="69.1" lengthAdjust="spacingAndGlyphs" class="lg">2 per. Mov. Avg. (Kennebec)</text>
<circle cx="322.6" cy="240.90" r="1.4" fill="#00B050"/>
<text x="326.70" y="242.80" font-size="6.1" text-anchor="start" fill="#303030" textLength="18" lengthAdjust="spacingAndGlyphs" class="lg">Désirée</text>
<line x1="356.9" y1="240.90" x2="368.0" y2="240.90" stroke="#1FAE4B" stroke-width="1.55"/>
<text x="368.70" y="242.80" font-size="6.1" text-anchor="start" fill="#303030" textLength="63.6" lengthAdjust="spacingAndGlyphs" class="lg">2 per. Mov. Avg. (Désirée)</text>
<circle cx="322.6" cy="249.80" r="1.4" fill="#0070C0"/>
<text x="326.70" y="251.70" font-size="6.1" text-anchor="start" fill="#303030" textLength="12.3" lengthAdjust="spacingAndGlyphs" class="lg">Agria</text>
<line x1="356.9" y1="249.80" x2="368.0" y2="249.80" stroke="#2a74c4" stroke-width="1.55"/>
<text x="368.70" y="251.70" font-size="6.1" text-anchor="start" fill="#303030" textLength="57.8" lengthAdjust="spacingAndGlyphs" class="lg">2 per. Mov. Avg. (Agria)</text>
</svg></body></html>
